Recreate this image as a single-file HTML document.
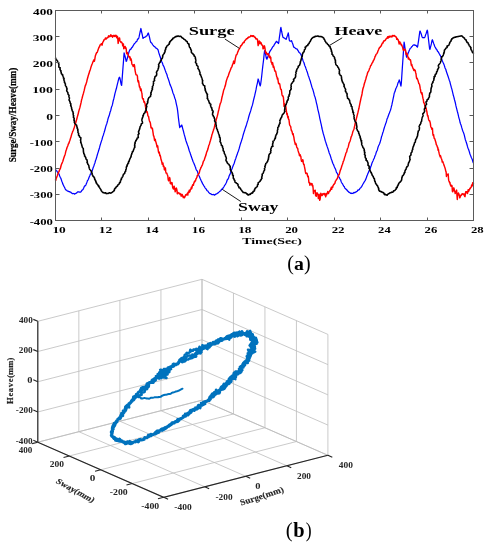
<!DOCTYPE html>
<html><head><meta charset="utf-8"><title>Figure</title>
<style>html,body{margin:0;padding:0;background:#fff;}svg{display:block;filter:blur(0.3px);}</style>
</head><body>
<svg width="489" height="550" viewBox="0 0 489 550">
<rect x="0" y="0" width="489" height="550" fill="#fff"/>
<g fill="none" stroke-linejoin="round" stroke-linecap="round">
<path d="M55.50 169.08 L55.85 170.01 L56.20 170.49 L56.55 170.72 L56.90 171.10 L57.25 171.72 L57.60 172.32 L57.95 172.83 L58.30 173.37 L58.65 173.61 L59.00 174.00 L59.35 174.98 L59.70 175.99 L60.05 176.84 L60.40 177.58 L60.75 178.09 L61.10 179.00 L61.45 180.13 L61.80 181.20 L62.15 181.91 L62.50 182.99 L62.85 184.09 L63.20 184.77 L63.55 185.43 L63.90 186.26 L64.25 186.72 L64.60 187.50 L64.95 188.32 L65.30 189.10 L65.65 189.71 L66.00 189.90 L66.35 190.13 L66.70 190.28 L67.05 190.67 L67.40 190.97 L67.75 191.23 L68.10 191.21 L68.45 191.29 L68.80 191.66 L69.15 191.77 L69.50 191.52 L69.85 191.83 L70.20 192.12 L70.55 192.06 L70.90 192.35 L71.25 192.79 L71.60 192.91 L71.95 193.25 L72.30 193.73 L72.65 193.63 L73.00 193.52 L73.35 193.50 L73.70 193.49 L74.05 193.69 L74.40 194.09 L74.75 193.92 L75.10 193.54 L75.45 193.70 L75.80 193.51 L76.15 193.18 L76.50 193.09 L76.85 192.82 L77.20 192.31 L77.55 191.94 L77.90 191.94 L78.25 192.01 L78.60 191.86 L78.95 191.93 L79.30 192.10 L79.65 192.04 L80.00 192.18 L80.35 192.14 L80.70 192.07 L81.05 191.65 L81.40 191.24 L81.75 190.64 L82.10 190.09 L82.45 189.91 L82.80 189.68 L83.15 189.26 L83.50 188.53 L83.85 187.64 L84.20 186.84 L84.55 186.04 L84.90 185.79 L85.25 185.83 L85.60 185.45 L85.95 184.70 L86.30 183.86 L86.65 183.04 L87.00 182.04 L87.35 180.88 L87.70 180.25 L88.05 179.93 L88.40 179.27 L88.75 178.28 L89.10 177.30 L89.45 176.46 L89.80 175.67 L90.15 174.78 L90.50 173.99 L90.85 173.52 L91.20 172.84 L91.55 172.21 L91.90 171.67 L92.25 170.63 L92.60 169.46 L92.95 168.37 L93.30 167.24 L93.65 166.47 L94.00 165.45 L94.35 164.33 L94.70 163.44 L95.05 162.43 L95.40 161.00 L95.75 159.89 L96.10 159.16 L96.45 158.01 L96.80 156.82 L97.15 155.45 L97.50 154.25 L97.85 153.09 L98.20 152.03 L98.55 150.79 L98.90 149.69 L99.25 148.82 L99.60 147.43 L99.95 145.86 L100.30 144.78 L100.65 143.62 L101.00 142.43 L101.35 141.39 L101.70 140.36 L102.05 139.24 L102.40 137.87 L102.75 136.55 L103.10 135.67 L103.45 134.72 L103.80 133.41 L104.15 132.42 L104.50 131.29 L104.85 129.99 L105.20 128.77 L105.55 127.45 L105.90 126.19 L106.25 125.05 L106.60 124.18 L106.95 123.13 L107.30 121.77 L107.65 120.49 L108.00 118.90 L108.35 117.71 L108.70 116.85 L109.05 116.06 L109.40 114.80 L109.75 113.49 L110.10 112.08 L110.45 111.16 L110.80 110.18 L111.15 108.68 L111.50 107.12 L111.85 106.26 L112.20 105.40 L112.55 104.16 L112.90 102.48 L113.25 100.71 L113.60 99.47 L113.95 98.19 L114.30 96.55 L114.65 95.01 L115.00 93.35 L115.35 92.08 L115.70 90.80 L116.05 89.53 L116.40 88.53 L116.75 86.95 L117.10 85.31 L117.45 83.84 L117.80 82.60 L118.15 81.21 L118.50 79.68 L118.85 78.45 L119.20 77.49 L119.55 77.26 L119.90 78.25 L120.25 79.76 L120.60 81.68 L120.95 83.44 L121.30 84.94 L121.65 85.38 L122.00 80.82 L122.35 76.08 L122.70 71.33 L123.05 66.79 L123.40 62.33 L123.75 57.68 L124.10 52.88 L124.45 54.07 L124.80 55.39 L125.15 56.76 L125.50 58.28 L125.85 59.83 L126.20 61.41 L126.55 61.09 L126.90 59.83 L127.25 58.50 L127.60 57.14 L127.95 55.86 L128.30 54.48 L128.65 53.20 L129.00 51.85 L129.35 51.06 L129.70 50.32 L130.05 49.54 L130.40 49.22 L130.75 49.28 L131.10 48.81 L131.45 48.17 L131.80 47.57 L132.15 47.26 L132.50 47.08 L132.85 46.19 L133.20 45.58 L133.55 45.07 L133.90 44.38 L134.25 43.83 L134.60 43.49 L134.95 43.15 L135.30 42.79 L135.65 42.41 L136.00 41.81 L136.35 41.59 L136.70 41.40 L137.05 40.71 L137.40 39.63 L137.75 38.94 L138.10 39.03 L138.45 38.75 L138.80 37.91 L139.15 36.49 L139.50 34.81 L139.85 33.13 L140.20 31.50 L140.55 30.07 L140.90 28.49 L141.25 30.18 L141.60 32.01 L141.95 33.46 L142.30 34.86 L142.65 36.76 L143.00 38.44 L143.35 37.94 L143.70 37.68 L144.05 37.54 L144.40 37.33 L144.75 37.19 L145.10 37.02 L145.45 36.82 L145.80 36.76 L146.15 36.21 L146.50 35.84 L146.85 35.85 L147.20 35.41 L147.55 34.42 L147.90 33.56 L148.25 33.00 L148.60 33.83 L148.95 35.11 L149.30 36.32 L149.65 37.93 L150.00 39.56 L150.35 41.02 L150.70 42.29 L151.05 42.61 L151.40 42.80 L151.75 43.16 L152.10 43.76 L152.45 44.39 L152.80 44.86 L153.15 45.27 L153.50 45.64 L153.85 46.16 L154.20 46.50 L154.55 46.53 L154.90 46.79 L155.25 47.54 L155.60 47.84 L155.95 47.95 L156.30 48.27 L156.65 48.45 L157.00 48.59 L157.35 49.01 L157.70 49.39 L158.05 49.95 L158.40 51.20 L158.75 52.51 L159.10 53.58 L159.45 54.69 L159.80 55.75 L160.15 56.73 L160.50 57.80 L160.85 59.19 L161.20 60.27 L161.55 61.12 L161.90 62.01 L162.25 62.78 L162.60 63.61 L162.95 64.69 L163.30 65.67 L163.65 66.20 L164.00 66.78 L164.35 67.89 L164.70 69.10 L165.05 69.86 L165.40 70.83 L165.75 71.72 L166.10 72.68 L166.45 73.43 L166.80 74.17 L167.15 75.49 L167.50 76.93 L167.85 77.81 L168.20 78.72 L168.55 79.64 L168.90 80.70 L169.25 81.89 L169.60 83.16 L169.95 84.37 L170.30 85.11 L170.65 85.87 L171.00 86.70 L171.35 87.52 L171.70 88.59 L172.05 89.81 L172.40 90.80 L172.75 92.20 L173.10 93.25 L173.45 93.92 L173.80 94.75 L174.15 95.92 L174.50 97.12 L174.85 98.18 L175.20 98.92 L175.55 100.13 L175.90 101.91 L176.25 103.61 L176.60 105.16 L176.95 106.67 L177.30 108.42 L177.65 110.85 L178.00 113.90 L178.35 117.07 L178.70 120.13 L179.05 122.76 L179.40 125.30 L179.75 127.58 L180.10 126.91 L180.45 126.52 L180.80 126.38 L181.15 125.63 L181.50 125.14 L181.85 125.23 L182.20 126.79 L182.55 128.02 L182.90 129.37 L183.25 130.54 L183.60 131.77 L183.95 133.34 L184.30 134.70 L184.65 135.83 L185.00 137.15 L185.35 138.47 L185.70 139.84 L186.05 140.94 L186.40 141.94 L186.75 142.95 L187.10 143.92 L187.45 144.99 L187.80 145.86 L188.15 146.76 L188.50 147.97 L188.85 149.28 L189.20 150.49 L189.55 151.51 L189.90 152.24 L190.25 153.40 L190.60 154.57 L190.95 155.50 L191.30 156.57 L191.65 157.49 L192.00 158.46 L192.35 159.60 L192.70 160.44 L193.05 161.50 L193.40 162.27 L193.75 162.94 L194.10 163.77 L194.45 164.66 L194.80 165.58 L195.15 166.46 L195.50 167.25 L195.85 168.49 L196.20 169.54 L196.55 170.23 L196.90 170.50 L197.25 170.99 L197.60 172.07 L197.95 173.19 L198.30 174.10 L198.65 174.84 L199.00 175.69 L199.35 176.45 L199.70 177.21 L200.05 178.27 L200.40 178.88 L200.75 179.73 L201.10 180.58 L201.45 181.09 L201.80 181.93 L202.15 182.85 L202.50 183.40 L202.85 184.09 L203.20 184.67 L203.55 185.26 L203.90 185.85 L204.25 186.29 L204.60 186.88 L204.95 187.59 L205.30 188.09 L205.65 188.43 L206.00 188.71 L206.35 189.38 L206.70 190.15 L207.05 190.59 L207.40 190.79 L207.75 190.97 L208.10 191.37 L208.45 192.04 L208.80 192.60 L209.15 192.88 L209.50 193.22 L209.85 193.43 L210.20 193.69 L210.55 193.73 L210.90 193.92 L211.25 194.12 L211.60 194.54 L211.95 194.68 L212.30 194.52 L212.65 194.53 L213.00 194.57 L213.35 194.47 L213.70 194.51 L214.05 194.70 L214.40 195.03 L214.75 195.03 L215.10 194.61 L215.45 194.35 L215.80 194.20 L216.15 193.92 L216.50 193.79 L216.85 193.76 L217.20 193.49 L217.55 193.12 L217.90 192.93 L218.25 192.88 L218.60 192.45 L218.95 192.06 L219.30 191.65 L219.65 191.42 L220.00 191.26 L220.35 191.00 L220.70 190.77 L221.05 190.27 L221.40 189.50 L221.75 189.08 L222.10 189.13 L222.45 188.87 L222.80 188.58 L223.15 187.91 L223.50 187.25 L223.85 186.83 L224.20 186.24 L224.55 185.58 L224.90 184.95 L225.25 184.59 L225.60 184.04 L225.95 183.29 L226.30 182.71 L226.65 181.77 L227.00 180.82 L227.35 179.74 L227.70 179.12 L228.05 179.07 L228.40 178.46 L228.75 177.31 L229.10 176.04 L229.45 175.34 L229.80 174.65 L230.15 173.76 L230.50 172.79 L230.85 171.72 L231.20 170.78 L231.55 169.81 L231.90 169.02 L232.25 168.21 L232.60 167.15 L232.95 166.20 L233.30 165.31 L233.65 164.52 L234.00 163.72 L234.35 162.70 L234.70 161.54 L235.05 160.30 L235.40 159.46 L235.75 158.63 L236.10 157.43 L236.45 156.31 L236.80 155.39 L237.15 154.60 L237.50 153.36 L237.85 152.21 L238.20 151.41 L238.55 150.49 L238.90 149.35 L239.25 148.22 L239.60 146.95 L239.95 145.66 L240.30 144.42 L240.65 143.25 L241.00 142.19 L241.35 141.21 L241.70 140.10 L242.05 139.03 L242.40 137.95 L242.75 136.62 L243.10 135.22 L243.45 134.05 L243.80 132.85 L244.15 131.72 L244.50 130.81 L244.85 129.59 L245.20 128.37 L245.55 127.43 L245.90 126.61 L246.25 125.52 L246.60 124.43 L246.95 123.13 L247.30 121.89 L247.65 120.88 L248.00 119.75 L248.35 118.41 L248.70 117.00 L249.05 115.76 L249.40 114.55 L249.75 113.50 L250.10 112.55 L250.45 111.61 L250.80 110.41 L251.15 109.06 L251.50 107.76 L251.85 106.60 L252.20 105.69 L252.55 104.47 L252.90 103.08 L253.25 101.37 L253.60 99.87 L253.95 98.51 L254.30 97.13 L254.65 95.74 L255.00 94.17 L255.35 92.72 L255.70 91.12 L256.05 89.44 L256.40 87.49 L256.75 85.64 L257.10 84.34 L257.45 82.80 L257.80 80.75 L258.15 78.99 L258.50 79.92 L258.85 81.08 L259.20 82.30 L259.55 84.00 L259.90 85.18 L260.25 85.90 L260.60 84.53 L260.95 82.03 L261.30 79.48 L261.65 76.46 L262.00 73.27 L262.35 69.98 L262.70 66.92 L263.05 64.00 L263.40 61.44 L263.75 58.24 L264.10 54.65 L264.45 51.69 L264.80 50.48 L265.15 52.21 L265.50 53.82 L265.85 55.71 L266.20 57.52 L266.55 58.75 L266.90 59.18 L267.25 58.25 L267.60 57.27 L267.95 56.44 L268.30 55.72 L268.65 54.71 L269.00 53.64 L269.35 52.76 L269.70 51.87 L270.05 51.14 L270.40 50.62 L270.75 50.11 L271.10 49.58 L271.45 49.13 L271.80 48.51 L272.15 47.88 L272.50 47.29 L272.85 46.72 L273.20 46.25 L273.55 46.16 L273.90 45.40 L274.25 44.70 L274.60 44.12 L274.95 43.64 L275.30 43.22 L275.65 42.60 L276.00 41.95 L276.35 41.28 L276.70 41.27 L277.05 41.86 L277.40 42.51 L277.75 42.53 L278.10 42.79 L278.45 43.49 L278.80 42.26 L279.15 39.21 L279.50 36.55 L279.85 34.33 L280.20 31.80 L280.55 28.88 L280.90 27.36 L281.25 29.26 L281.60 31.24 L281.95 32.93 L282.30 34.57 L282.65 36.09 L283.00 37.31 L283.35 37.62 L283.70 37.79 L284.05 37.93 L284.40 38.00 L284.75 38.30 L285.10 38.71 L285.45 38.87 L285.80 39.08 L286.15 39.36 L286.50 38.37 L286.85 37.17 L287.20 36.10 L287.55 35.45 L287.90 34.58 L288.25 32.96 L288.60 34.77 L288.95 37.55 L289.30 40.29 L289.65 40.89 L290.00 40.89 L290.35 41.14 L290.70 41.21 L291.05 41.09 L291.40 40.71 L291.75 41.21 L292.10 42.29 L292.45 43.12 L292.80 44.01 L293.15 45.11 L293.50 46.53 L293.85 47.27 L294.20 47.24 L294.55 47.43 L294.90 47.78 L295.25 48.17 L295.60 48.51 L295.95 48.68 L296.30 48.78 L296.65 48.76 L297.00 48.99 L297.35 49.37 L297.70 50.20 L298.05 50.70 L298.40 51.19 L298.75 51.87 L299.10 52.55 L299.45 52.78 L299.80 52.86 L300.15 53.30 L300.50 53.69 L300.85 54.38 L301.20 55.13 L301.55 56.35 L301.90 57.39 L302.25 58.24 L302.60 59.31 L302.95 60.43 L303.30 61.34 L303.65 62.06 L304.00 62.73 L304.35 63.98 L304.70 65.28 L305.05 66.08 L305.40 66.73 L305.75 67.82 L306.10 68.91 L306.45 69.84 L306.80 70.93 L307.15 71.81 L307.50 72.83 L307.85 74.13 L308.20 75.45 L308.55 76.20 L308.90 77.13 L309.25 78.34 L309.60 79.36 L309.95 80.31 L310.30 81.22 L310.65 82.62 L311.00 83.82 L311.35 84.93 L311.70 86.36 L312.05 87.42 L312.40 88.35 L312.75 89.24 L313.10 90.33 L313.45 91.60 L313.80 92.87 L314.15 94.42 L314.50 95.74 L314.85 96.62 L315.20 97.64 L315.55 99.03 L315.90 100.45 L316.25 102.03 L316.60 103.52 L316.95 104.93 L317.30 106.59 L317.65 108.43 L318.00 110.05 L318.35 111.38 L318.70 112.97 L319.05 114.46 L319.40 116.07 L319.75 118.04 L320.10 119.69 L320.45 121.21 L320.80 122.78 L321.15 124.21 L321.50 125.80 L321.85 127.74 L322.20 129.25 L322.55 130.59 L322.90 132.10 L323.25 133.48 L323.60 134.62 L323.95 135.87 L324.30 137.10 L324.65 138.40 L325.00 139.74 L325.35 141.14 L325.70 142.04 L326.05 143.10 L326.40 144.19 L326.75 145.23 L327.10 146.40 L327.45 147.35 L327.80 148.29 L328.15 149.35 L328.50 150.46 L328.85 151.80 L329.20 152.92 L329.55 153.79 L329.90 154.51 L330.25 155.56 L330.60 156.58 L330.95 157.79 L331.30 159.01 L331.65 159.88 L332.00 160.80 L332.35 161.98 L332.70 163.08 L333.05 163.86 L333.40 164.30 L333.75 165.24 L334.10 166.13 L334.45 166.95 L334.80 167.85 L335.15 168.44 L335.50 169.08 L335.85 170.15 L336.20 171.40 L336.55 172.47 L336.90 172.88 L337.25 173.27 L337.60 173.95 L337.95 174.96 L338.30 175.89 L338.65 176.57 L339.00 177.03 L339.35 177.60 L339.70 178.23 L340.05 179.09 L340.40 179.53 L340.75 180.16 L341.10 181.42 L341.45 182.26 L341.80 182.81 L342.15 183.29 L342.50 183.79 L342.85 184.51 L343.20 185.11 L343.55 185.94 L343.90 186.24 L344.25 186.49 L344.60 187.46 L344.95 188.25 L345.30 188.52 L345.65 188.94 L346.00 189.18 L346.35 189.27 L346.70 189.57 L347.05 190.43 L347.40 190.87 L347.75 191.13 L348.10 191.26 L348.45 191.66 L348.80 192.24 L349.15 192.38 L349.50 192.43 L349.85 192.59 L350.20 193.04 L350.55 193.32 L350.90 193.26 L351.25 193.20 L351.60 193.27 L351.95 193.53 L352.30 193.37 L352.65 193.39 L353.00 193.50 L353.35 193.03 L353.70 192.51 L354.05 192.40 L354.40 192.59 L354.75 192.76 L355.10 192.42 L355.45 192.10 L355.80 192.09 L356.15 191.90 L356.50 191.51 L356.85 191.49 L357.20 191.25 L357.55 190.63 L357.90 189.98 L358.25 190.06 L358.60 190.09 L358.95 189.79 L359.30 189.62 L359.65 188.93 L360.00 188.28 L360.35 188.07 L360.70 187.77 L361.05 187.34 L361.40 186.83 L361.75 186.40 L362.10 185.69 L362.45 185.01 L362.80 184.27 L363.15 183.75 L363.50 183.31 L363.85 182.63 L364.20 181.98 L364.55 181.42 L364.90 180.90 L365.25 180.34 L365.60 179.66 L365.95 178.86 L366.30 177.84 L366.65 176.70 L367.00 175.68 L367.35 174.93 L367.70 174.02 L368.05 173.20 L368.40 172.63 L368.75 171.55 L369.10 170.83 L369.45 170.12 L369.80 169.35 L370.15 168.73 L370.50 167.52 L370.85 166.47 L371.20 165.76 L371.55 164.52 L371.90 163.32 L372.25 162.48 L372.60 161.78 L372.95 161.08 L373.30 160.15 L373.65 159.10 L374.00 158.57 L374.35 157.95 L374.70 156.69 L375.05 155.73 L375.40 155.06 L375.75 154.18 L376.10 152.91 L376.45 151.79 L376.80 151.03 L377.15 150.51 L377.50 149.45 L377.85 147.87 L378.20 146.70 L378.55 145.87 L378.90 145.08 L379.25 144.43 L379.60 143.66 L379.95 142.82 L380.30 141.58 L380.65 140.29 L381.00 139.08 L381.35 137.53 L381.70 136.20 L382.05 135.31 L382.40 134.22 L382.75 132.84 L383.10 131.93 L383.45 130.85 L383.80 129.47 L384.15 128.30 L384.50 127.16 L384.85 126.14 L385.20 125.09 L385.55 123.93 L385.90 123.10 L386.25 122.18 L386.60 120.90 L386.95 119.33 L387.30 118.35 L387.65 117.81 L388.00 116.83 L388.35 115.76 L388.70 114.74 L389.05 113.76 L389.40 112.94 L389.75 112.01 L390.10 111.13 L390.45 110.28 L390.80 109.05 L391.15 107.71 L391.50 106.16 L391.85 104.96 L392.20 103.14 L392.55 101.55 L392.90 99.92 L393.25 98.19 L393.60 96.59 L393.95 94.75 L394.30 92.96 L394.65 92.33 L395.00 91.55 L395.35 90.22 L395.70 88.97 L396.05 88.20 L396.40 87.54 L396.75 86.74 L397.10 85.90 L397.45 84.87 L397.80 83.65 L398.15 82.53 L398.50 82.02 L398.85 81.05 L399.20 79.96 L399.55 80.93 L399.90 82.04 L400.25 83.38 L400.60 84.85 L400.95 86.06 L401.30 83.53 L401.65 78.35 L402.00 72.89 L402.35 67.63 L402.70 62.50 L403.05 57.51 L403.40 52.35 L403.75 47.32 L404.10 42.07 L404.45 44.08 L404.80 46.76 L405.15 49.01 L405.50 50.92 L405.85 52.97 L406.20 55.31 L406.55 57.11 L406.90 56.40 L407.25 55.70 L407.60 54.89 L407.95 53.73 L408.30 52.81 L408.65 51.98 L409.00 50.94 L409.35 50.18 L409.70 49.52 L410.05 48.72 L410.40 48.25 L410.75 48.02 L411.10 47.62 L411.45 47.05 L411.80 46.77 L412.15 46.53 L412.50 45.98 L412.85 45.46 L413.20 45.11 L413.55 45.12 L413.90 44.82 L414.25 44.76 L414.60 44.93 L414.95 45.37 L415.30 45.39 L415.65 45.21 L416.00 45.27 L416.35 45.83 L416.70 46.48 L417.05 46.71 L417.40 47.15 L417.75 45.97 L418.10 43.49 L418.45 41.31 L418.80 38.85 L419.15 36.38 L419.50 33.79 L419.85 31.35 L420.20 31.11 L420.55 32.28 L420.90 33.11 L421.25 34.01 L421.60 35.35 L421.95 36.45 L422.30 37.36 L422.65 37.66 L423.00 37.45 L423.35 37.75 L423.70 37.60 L424.05 37.55 L424.40 37.61 L424.75 37.38 L425.10 36.48 L425.45 35.34 L425.80 34.40 L426.15 33.48 L426.50 32.34 L426.85 31.14 L427.20 30.19 L427.55 31.00 L427.90 34.08 L428.25 37.15 L428.60 40.30 L428.95 43.27 L429.30 46.27 L429.65 49.13 L430.00 49.31 L430.35 47.71 L430.70 46.37 L431.05 45.11 L431.40 43.67 L431.75 41.87 L432.10 40.13 L432.45 39.80 L432.80 41.09 L433.15 41.98 L433.50 42.88 L433.85 43.91 L434.20 44.74 L434.55 45.87 L434.90 46.82 L435.25 47.24 L435.60 47.76 L435.95 48.69 L436.30 49.28 L436.65 49.40 L437.00 50.02 L437.35 50.91 L437.70 51.58 L438.05 51.65 L438.40 51.93 L438.75 52.77 L439.10 53.63 L439.45 53.98 L439.80 54.59 L440.15 55.43 L440.50 55.70 L440.85 56.53 L441.20 58.01 L441.55 58.96 L441.90 59.55 L442.25 60.55 L442.60 61.46 L442.95 62.22 L443.30 62.89 L443.65 63.69 L444.00 64.58 L444.35 65.61 L444.70 66.72 L445.05 67.94 L445.40 68.65 L445.75 69.25 L446.10 70.52 L446.45 71.82 L446.80 72.79 L447.15 73.80 L447.50 74.75 L447.85 75.74 L448.20 76.70 L448.55 77.84 L448.90 78.90 L449.25 80.15 L449.60 80.91 L449.95 81.97 L450.30 83.58 L450.65 84.93 L451.00 86.21 L451.35 87.51 L451.70 88.65 L452.05 89.83 L452.40 91.31 L452.75 92.81 L453.10 94.36 L453.45 95.82 L453.80 96.88 L454.15 98.26 L454.50 99.75 L454.85 100.97 L455.20 102.25 L455.55 103.91 L455.90 105.65 L456.25 107.06 L456.60 108.46 L456.95 109.79 L457.30 111.23 L457.65 112.50 L458.00 113.86 L458.35 115.42 L458.70 116.97 L459.05 118.33 L459.40 119.34 L459.75 120.90 L460.10 122.53 L460.45 123.66 L460.80 124.45 L461.15 125.41 L461.50 126.63 L461.85 127.93 L462.20 129.11 L462.55 130.24 L462.90 131.23 L463.25 131.98 L463.60 132.89 L463.95 133.95 L464.30 135.17 L464.65 136.62 L465.00 138.18 L465.35 139.67 L465.70 140.59 L466.05 141.60 L466.40 142.81 L466.75 143.76 L467.10 145.02 L467.45 146.38 L467.80 147.51 L468.15 148.46 L468.50 149.29 L468.85 150.21 L469.20 151.38 L469.55 152.54 L469.90 153.73 L470.25 154.72 L470.60 155.59 L470.95 156.38 L471.30 157.48 L471.65 158.19 L472.00 158.82 L472.35 159.77 L472.70 161.00 L473.05 162.28 L473.40 163.08" stroke="#0000ff" stroke-width="1.25"/>
<path d="M55.50 179.76 L55.85 180.26 L56.20 178.22 L56.55 177.84 L56.90 176.64 L57.25 176.00 L57.60 174.59 L57.95 173.97 L58.30 172.69 L58.65 172.01 L59.00 171.72 L59.35 170.38 L59.70 169.70 L60.05 169.18 L60.40 168.41 L60.75 167.00 L61.10 165.49 L61.45 164.41 L61.80 163.59 L62.15 162.88 L62.50 162.07 L62.85 161.20 L63.20 160.04 L63.55 158.90 L63.90 157.82 L64.25 156.72 L64.60 155.78 L64.95 154.90 L65.30 153.71 L65.65 152.11 L66.00 150.66 L66.35 149.81 L66.70 148.84 L67.05 147.42 L67.40 146.71 L67.75 146.03 L68.10 144.81 L68.45 143.86 L68.80 143.52 L69.15 142.57 L69.50 141.26 L69.85 140.46 L70.20 139.36 L70.55 138.13 L70.90 137.44 L71.25 135.95 L71.60 134.62 L71.95 133.58 L72.30 132.66 L72.65 131.59 L73.00 130.94 L73.35 130.28 L73.70 129.13 L74.05 128.06 L74.40 127.16 L74.75 125.84 L75.10 124.83 L75.45 123.62 L75.80 122.46 L76.15 121.30 L76.50 120.09 L76.85 118.73 L77.20 117.30 L77.55 116.13 L77.90 115.08 L78.25 113.62 L78.60 112.00 L78.95 110.67 L79.30 109.48 L79.65 108.35 L80.00 107.13 L80.35 105.69 L80.70 104.17 L81.05 102.69 L81.40 100.81 L81.75 99.17 L82.10 98.19 L82.45 96.78 L82.80 95.41 L83.15 94.25 L83.50 93.15 L83.85 91.66 L84.20 90.38 L84.55 88.87 L84.90 87.19 L85.25 85.92 L85.60 85.14 L85.95 84.15 L86.30 83.12 L86.65 82.01 L87.00 80.46 L87.35 79.00 L87.70 77.69 L88.05 76.46 L88.40 75.17 L88.75 74.16 L89.10 73.33 L89.45 71.78 L89.80 70.87 L90.15 70.05 L90.50 68.85 L90.85 67.57 L91.20 66.59 L91.55 65.55 L91.90 64.50 L92.25 63.70 L92.60 62.77 L92.95 61.90 L93.30 61.10 L93.65 60.03 L94.00 60.10 L94.35 61.31 L94.70 59.92 L95.05 57.62 L95.40 55.73 L95.75 54.69 L96.10 53.86 L96.45 53.02 L96.80 52.53 L97.15 52.48 L97.50 51.53 L97.85 50.45 L98.20 49.49 L98.55 48.47 L98.90 47.51 L99.25 47.07 L99.60 46.50 L99.95 45.24 L100.30 44.76 L100.65 44.77 L101.00 44.12 L101.35 43.68 L101.70 44.57 L102.05 45.21 L102.40 43.84 L102.75 42.08 L103.10 41.82 L103.45 41.45 L103.80 39.99 L104.15 39.88 L104.50 39.81 L104.85 39.46 L105.20 38.56 L105.55 37.96 L105.90 38.09 L106.25 39.05 L106.60 38.19 L106.95 38.09 L107.30 37.68 L107.65 37.85 L108.00 37.47 L108.35 36.14 L108.70 35.78 L109.05 36.87 L109.40 36.46 L109.75 36.01 L110.10 36.45 L110.45 36.15 L110.80 34.76 L111.15 35.48 L111.50 36.25 L111.85 35.63 L112.20 36.50 L112.55 37.28 L112.90 36.35 L113.25 35.37 L113.60 35.47 L113.95 35.67 L114.30 36.34 L114.65 35.52 L115.00 36.63 L115.35 35.49 L115.70 35.94 L116.05 35.36 L116.40 36.33 L116.75 37.81 L117.10 37.41 L117.45 36.34 L117.80 39.12 L118.15 43.40 L118.50 41.45 L118.85 39.93 L119.20 37.97 L119.55 37.89 L119.90 40.47 L120.25 41.16 L120.60 41.55 L120.95 42.48 L121.30 42.01 L121.65 42.10 L122.00 42.97 L122.35 43.23 L122.70 45.86 L123.05 45.37 L123.40 43.87 L123.75 48.79 L124.10 47.51 L124.45 46.91 L124.80 47.79 L125.15 46.40 L125.50 48.38 L125.85 47.56 L126.20 48.92 L126.55 53.28 L126.90 53.86 L127.25 52.81 L127.60 52.60 L127.95 54.33 L128.30 55.01 L128.65 56.08 L129.00 57.03 L129.35 56.58 L129.70 57.91 L130.05 57.00 L130.40 60.11 L130.75 58.47 L131.10 59.16 L131.45 60.66 L131.80 63.45 L132.15 64.59 L132.50 64.60 L132.85 65.48 L133.20 66.49 L133.55 66.04 L133.90 64.75 L134.25 64.61 L134.60 65.95 L134.95 69.72 L135.30 71.56 L135.65 73.31 L136.00 74.81 L136.35 74.88 L136.70 74.93 L137.05 75.14 L137.40 76.12 L137.75 80.45 L138.10 81.93 L138.45 80.70 L138.80 82.50 L139.15 85.03 L139.50 87.08 L139.85 86.53 L140.20 88.65 L140.55 90.47 L140.90 88.62 L141.25 90.02 L141.60 92.17 L141.95 93.49 L142.30 97.60 L142.65 98.83 L143.00 99.01 L143.35 98.73 L143.70 101.10 L144.05 102.19 L144.40 101.71 L144.75 102.80 L145.10 103.98 L145.45 106.47 L145.80 108.41 L146.15 109.86 L146.50 111.25 L146.85 112.23 L147.20 111.88 L147.55 113.33 L147.90 115.85 L148.25 116.19 L148.60 116.59 L148.95 118.81 L149.30 120.39 L149.65 121.42 L150.00 122.06 L150.35 122.76 L150.70 125.32 L151.05 127.84 L151.40 127.60 L151.75 127.47 L152.10 128.71 L152.45 128.58 L152.80 131.16 L153.15 133.41 L153.50 135.98 L153.85 135.98 L154.20 138.01 L154.55 140.51 L154.90 139.23 L155.25 139.20 L155.60 141.32 L155.95 142.08 L156.30 143.49 L156.65 144.78 L157.00 146.98 L157.35 146.89 L157.70 145.84 L158.05 148.83 L158.40 151.46 L158.75 152.91 L159.10 151.99 L159.45 153.08 L159.80 155.78 L160.15 155.20 L160.50 156.49 L160.85 158.59 L161.20 160.06 L161.55 160.86 L161.90 162.49 L162.25 164.27 L162.60 162.85 L162.95 163.12 L163.30 166.45 L163.65 166.47 L164.00 166.23 L164.35 169.80 L164.70 169.97 L165.05 168.34 L165.40 167.92 L165.75 171.64 L166.10 173.02 L166.45 172.99 L166.80 173.21 L167.15 174.23 L167.50 175.10 L167.85 176.28 L168.20 179.62 L168.55 180.81 L168.90 179.78 L169.25 179.15 L169.60 177.55 L169.95 178.61 L170.30 183.36 L170.65 183.65 L171.00 183.45 L171.35 182.57 L171.70 184.10 L172.05 182.60 L172.40 185.33 L172.75 187.91 L173.10 187.96 L173.45 188.96 L173.80 188.24 L174.15 186.18 L174.50 188.25 L174.85 189.69 L175.20 191.88 L175.55 190.68 L175.90 188.97 L176.25 188.02 L176.60 188.78 L176.95 190.09 L177.30 193.71 L177.65 192.29 L178.00 192.67 L178.35 192.88 L178.70 192.90 L179.05 193.55 L179.40 193.71 L179.75 193.30 L180.10 194.50 L180.45 194.60 L180.80 193.90 L181.15 196.13 L181.50 195.04 L181.85 196.10 L182.20 194.50 L182.55 195.51 L182.90 195.98 L183.25 197.54 L183.60 196.65 L183.95 196.71 L184.30 197.86 L184.65 197.34 L185.00 196.69 L185.35 195.59 L185.70 194.77 L186.05 195.25 L186.40 194.79 L186.75 194.24 L187.10 194.24 L187.45 193.17 L187.80 195.14 L188.15 192.16 L188.50 192.06 L188.85 192.58 L189.20 190.30 L189.55 192.07 L189.90 191.60 L190.25 190.04 L190.60 189.10 L190.95 189.08 L191.30 187.27 L191.65 188.72 L192.00 187.46 L192.35 185.84 L192.70 184.73 L193.05 185.02 L193.40 185.33 L193.75 183.18 L194.10 182.73 L194.45 181.37 L194.80 181.67 L195.15 180.57 L195.50 180.82 L195.85 179.37 L196.20 178.71 L196.55 178.00 L196.90 177.35 L197.25 175.54 L197.60 175.69 L197.95 175.10 L198.30 173.95 L198.65 173.44 L199.00 173.38 L199.35 172.47 L199.70 170.91 L200.05 169.75 L200.40 169.07 L200.75 168.02 L201.10 167.56 L201.45 166.77 L201.80 165.97 L202.15 165.40 L202.50 164.45 L202.85 163.22 L203.20 162.08 L203.55 161.06 L203.90 160.63 L204.25 160.14 L204.60 158.81 L204.95 157.69 L205.30 156.70 L205.65 155.91 L206.00 154.84 L206.35 153.38 L206.70 151.97 L207.05 151.27 L207.40 150.65 L207.75 149.49 L208.10 148.30 L208.45 146.81 L208.80 145.44 L209.15 144.75 L209.50 143.74 L209.85 142.37 L210.20 141.22 L210.55 140.15 L210.90 138.92 L211.25 137.79 L211.60 136.29 L211.95 134.68 L212.30 133.76 L212.65 132.66 L213.00 131.48 L213.35 130.46 L213.70 129.26 L214.05 128.26 L214.40 127.14 L214.75 125.46 L215.10 123.70 L215.45 122.60 L215.80 121.70 L216.15 120.20 L216.50 118.68 L216.85 117.53 L217.20 116.40 L217.55 115.09 L217.90 113.61 L218.25 111.92 L218.60 110.49 L218.95 109.16 L219.30 107.58 L219.65 105.83 L220.00 104.57 L220.35 103.42 L220.70 102.69 L221.05 101.69 L221.40 100.24 L221.75 98.45 L222.10 96.74 L222.45 95.45 L222.80 94.01 L223.15 92.56 L223.50 90.93 L223.85 89.67 L224.20 88.85 L224.55 87.89 L224.90 86.62 L225.25 85.85 L225.60 84.56 L225.95 82.47 L226.30 81.05 L226.65 79.89 L227.00 78.88 L227.35 77.88 L227.70 77.07 L228.05 76.39 L228.40 75.45 L228.75 74.26 L229.10 73.16 L229.45 72.24 L229.80 71.41 L230.15 70.59 L230.50 69.66 L230.85 68.67 L231.20 67.65 L231.55 67.30 L231.90 66.78 L232.25 65.48 L232.60 64.34 L232.95 63.82 L233.30 62.53 L233.65 61.11 L234.00 61.71 L234.35 63.52 L234.70 62.27 L235.05 60.07 L235.40 58.17 L235.75 56.84 L236.10 55.40 L236.45 54.69 L236.80 54.61 L237.15 53.78 L237.50 52.70 L237.85 51.74 L238.20 51.22 L238.55 49.91 L238.90 49.72 L239.25 48.85 L239.60 48.35 L239.95 47.79 L240.30 46.83 L240.65 45.73 L241.00 45.78 L241.35 45.71 L241.70 44.71 L242.05 44.66 L242.40 43.82 L242.75 43.02 L243.10 42.99 L243.45 42.65 L243.80 41.95 L244.15 42.56 L244.50 41.07 L244.85 40.60 L245.20 40.59 L245.55 39.71 L245.90 39.81 L246.25 38.91 L246.60 38.78 L246.95 38.69 L247.30 38.58 L247.65 37.93 L248.00 37.56 L248.35 37.77 L248.70 37.00 L249.05 37.17 L249.40 37.14 L249.75 37.13 L250.10 36.63 L250.45 36.45 L250.80 35.47 L251.15 35.77 L251.50 35.77 L251.85 36.16 L252.20 36.43 L252.55 35.66 L252.90 36.35 L253.25 36.36 L253.60 35.67 L253.95 36.56 L254.30 36.99 L254.65 37.21 L255.00 37.59 L255.35 37.18 L255.70 38.62 L256.05 39.06 L256.40 39.14 L256.75 38.74 L257.10 39.13 L257.45 39.28 L257.80 42.70 L258.15 45.61 L258.50 42.44 L258.85 41.58 L259.20 40.92 L259.55 42.65 L259.90 43.73 L260.25 41.96 L260.60 43.40 L260.95 42.67 L261.30 43.34 L261.65 44.71 L262.00 45.16 L262.35 45.18 L262.70 45.37 L263.05 48.89 L263.40 48.54 L263.75 48.04 L264.10 46.72 L264.45 45.83 L264.80 47.49 L265.15 49.47 L265.50 52.95 L265.85 52.95 L266.20 52.23 L266.55 53.84 L266.90 54.23 L267.25 53.54 L267.60 54.67 L267.95 54.77 L268.30 53.72 L268.65 54.01 L269.00 56.01 L269.35 57.51 L269.70 56.18 L270.05 56.25 L270.40 58.20 L270.75 57.37 L271.10 62.01 L271.45 62.14 L271.80 63.09 L272.15 64.49 L272.50 62.51 L272.85 63.89 L273.20 67.20 L273.55 66.00 L273.90 67.00 L274.25 68.43 L274.60 70.25 L274.95 71.15 L275.30 70.80 L275.65 71.46 L276.00 73.22 L276.35 74.96 L276.70 76.61 L277.05 77.17 L277.40 79.00 L277.75 78.16 L278.10 80.52 L278.45 83.22 L278.80 83.78 L279.15 83.59 L279.50 83.47 L279.85 84.67 L280.20 86.76 L280.55 88.90 L280.90 89.29 L281.25 89.44 L281.60 91.63 L281.95 94.43 L282.30 95.56 L282.65 95.40 L283.00 96.69 L283.35 96.92 L283.70 100.71 L284.05 106.34 L284.40 104.58 L284.75 103.96 L285.10 104.95 L285.45 105.68 L285.80 106.28 L286.15 109.36 L286.50 111.78 L286.85 114.52 L287.20 113.36 L287.55 116.21 L287.90 117.77 L288.25 116.47 L288.60 119.50 L288.95 119.49 L289.30 122.31 L289.65 125.13 L290.00 125.31 L290.35 126.02 L290.70 126.64 L291.05 128.90 L291.40 130.72 L291.75 130.66 L292.10 131.71 L292.45 133.56 L292.80 134.59 L293.15 133.78 L293.50 135.84 L293.85 137.20 L294.20 139.57 L294.55 141.37 L294.90 142.66 L295.25 144.45 L295.60 143.18 L295.95 143.60 L296.30 144.72 L296.65 146.70 L297.00 147.71 L297.35 148.05 L297.70 148.46 L298.05 150.64 L298.40 151.61 L298.75 152.95 L299.10 153.44 L299.45 155.58 L299.80 155.78 L300.15 154.78 L300.50 156.04 L300.85 156.52 L301.20 159.68 L301.55 161.28 L301.90 161.10 L302.25 161.50 L302.60 159.79 L302.95 159.88 L303.30 162.95 L303.65 164.31 L304.00 164.22 L304.35 166.22 L304.70 167.87 L305.05 169.61 L305.40 171.91 L305.75 173.46 L306.10 172.90 L306.45 173.44 L306.80 173.19 L307.15 173.32 L307.50 175.81 L307.85 176.83 L308.20 176.20 L308.55 178.48 L308.90 182.52 L309.25 182.34 L309.60 183.73 L309.95 185.21 L310.30 183.30 L310.65 184.10 L311.00 183.98 L311.35 183.58 L311.70 184.89 L312.05 183.72 L312.40 185.96 L312.75 185.38 L313.10 188.05 L313.45 193.55 L313.80 190.37 L314.15 190.82 L314.50 191.06 L314.85 190.34 L315.20 190.16 L315.55 195.23 L315.90 195.70 L316.25 196.28 L316.60 193.92 L316.95 192.66 L317.30 193.41 L317.65 194.14 L318.00 195.05 L318.35 198.57 L318.70 197.24 L319.05 194.25 L319.40 195.70 L319.75 200.38 L320.10 199.34 L320.45 196.50 L320.80 193.27 L321.15 194.11 L321.50 194.24 L321.85 195.49 L322.20 195.45 L322.55 194.29 L322.90 193.78 L323.25 194.11 L323.60 193.92 L323.95 193.45 L324.30 194.88 L324.65 194.06 L325.00 193.57 L325.35 195.43 L325.70 196.88 L326.05 195.36 L326.40 193.82 L326.75 194.86 L327.10 193.21 L327.45 192.67 L327.80 191.43 L328.15 192.41 L328.50 193.63 L328.85 191.87 L329.20 191.81 L329.55 191.27 L329.90 190.45 L330.25 190.81 L330.60 189.13 L330.95 188.68 L331.30 187.35 L331.65 189.30 L332.00 187.31 L332.35 186.72 L332.70 187.29 L333.05 185.49 L333.40 185.16 L333.75 184.19 L334.10 184.23 L334.45 183.76 L334.80 183.44 L335.15 182.23 L335.50 181.06 L335.85 180.61 L336.20 180.13 L336.55 179.26 L336.90 179.18 L337.25 178.63 L337.60 177.86 L337.95 176.29 L338.30 175.80 L338.65 174.71 L339.00 174.92 L339.35 173.97 L339.70 172.52 L340.05 171.26 L340.40 170.05 L340.75 169.47 L341.10 168.33 L341.45 167.23 L341.80 166.00 L342.15 164.99 L342.50 164.26 L342.85 163.03 L343.20 161.56 L343.55 160.93 L343.90 160.21 L344.25 158.86 L344.60 157.60 L344.95 156.39 L345.30 155.49 L345.65 154.11 L346.00 152.91 L346.35 152.36 L346.70 151.76 L347.05 150.12 L347.40 148.71 L347.75 147.98 L348.10 147.20 L348.45 146.13 L348.80 144.37 L349.15 143.00 L349.50 142.30 L349.85 141.58 L350.20 140.66 L350.55 139.46 L350.90 137.81 L351.25 136.67 L351.60 135.94 L351.95 135.13 L352.30 133.90 L352.65 132.40 L353.00 131.19 L353.35 130.49 L353.70 129.74 L354.05 128.69 L354.40 127.04 L354.75 125.56 L355.10 123.74 L355.45 122.24 L355.80 120.92 L356.15 119.55 L356.50 118.10 L356.85 116.77 L357.20 115.44 L357.55 114.04 L357.90 112.69 L358.25 111.09 L358.60 109.62 L358.95 108.28 L359.30 106.48 L359.65 104.62 L360.00 102.89 L360.35 101.26 L360.70 99.57 L361.05 97.84 L361.40 96.61 L361.75 95.26 L362.10 93.39 L362.45 91.17 L362.80 89.26 L363.15 88.04 L363.50 86.99 L363.85 85.77 L364.20 84.26 L364.55 83.04 L364.90 82.04 L365.25 80.70 L365.60 79.75 L365.95 78.54 L366.30 77.05 L366.65 76.09 L367.00 74.98 L367.35 73.72 L367.70 72.53 L368.05 71.84 L368.40 71.47 L368.75 70.71 L369.10 69.82 L369.45 68.79 L369.80 68.02 L370.15 67.15 L370.50 66.02 L370.85 65.31 L371.20 65.06 L371.55 64.35 L371.90 63.38 L372.25 62.82 L372.60 62.49 L372.95 61.84 L373.30 60.68 L373.65 60.18 L374.00 59.80 L374.35 58.76 L374.70 57.74 L375.05 56.44 L375.40 56.22 L375.75 55.21 L376.10 54.28 L376.45 53.99 L376.80 53.64 L377.15 53.13 L377.50 52.41 L377.85 51.32 L378.20 50.54 L378.55 49.72 L378.90 48.60 L379.25 48.36 L379.60 47.36 L379.95 47.25 L380.30 47.15 L380.65 46.30 L381.00 46.18 L381.35 45.77 L381.70 44.35 L382.05 43.97 L382.40 43.02 L382.75 42.75 L383.10 42.90 L383.45 41.52 L383.80 41.00 L384.15 40.61 L384.50 40.90 L384.85 40.72 L385.20 40.47 L385.55 39.82 L385.90 39.17 L386.25 38.73 L386.60 38.13 L386.95 38.17 L387.30 38.31 L387.65 36.64 L388.00 36.81 L388.35 37.94 L388.70 36.48 L389.05 37.03 L389.40 36.27 L389.75 37.19 L390.10 37.02 L390.45 36.24 L390.80 36.26 L391.15 36.12 L391.50 36.45 L391.85 36.98 L392.20 36.63 L392.55 35.52 L392.90 35.54 L393.25 35.73 L393.60 35.59 L393.95 36.12 L394.30 35.47 L394.65 35.82 L395.00 36.05 L395.35 36.46 L395.70 36.49 L396.05 37.10 L396.40 37.25 L396.75 39.34 L397.10 38.34 L397.45 38.83 L397.80 39.70 L398.15 39.80 L398.50 40.77 L398.85 42.54 L399.20 43.96 L399.55 43.06 L399.90 41.85 L400.25 43.13 L400.60 43.00 L400.95 44.57 L401.30 45.12 L401.65 44.69 L402.00 45.69 L402.35 46.68 L402.70 47.45 L403.05 49.68 L403.40 50.11 L403.75 50.36 L404.10 49.50 L404.45 49.62 L404.80 49.25 L405.15 49.74 L405.50 50.11 L405.85 52.88 L406.20 54.24 L406.55 53.34 L406.90 53.26 L407.25 54.48 L407.60 55.80 L407.95 56.87 L408.30 58.92 L408.65 57.79 L409.00 58.72 L409.35 59.30 L409.70 59.64 L410.05 60.00 L410.40 59.69 L410.75 61.15 L411.10 63.88 L411.45 65.49 L411.80 64.51 L412.15 65.81 L412.50 66.94 L412.85 68.14 L413.20 68.48 L413.55 69.60 L413.90 70.45 L414.25 69.52 L414.60 70.42 L414.95 70.03 L415.30 70.69 L415.65 72.72 L416.00 73.74 L416.35 76.98 L416.70 78.71 L417.05 78.12 L417.40 78.87 L417.75 79.87 L418.10 80.85 L418.45 82.11 L418.80 83.50 L419.15 83.83 L419.50 84.41 L419.85 86.06 L420.20 88.44 L420.55 89.75 L420.90 92.43 L421.25 92.73 L421.60 93.92 L421.95 92.77 L422.30 94.32 L422.65 96.80 L423.00 98.44 L423.35 99.64 L423.70 102.64 L424.05 102.71 L424.40 103.77 L424.75 105.12 L425.10 107.97 L425.45 108.46 L425.80 108.67 L426.15 108.00 L426.50 110.60 L426.85 111.61 L427.20 113.94 L427.55 115.96 L427.90 115.62 L428.25 117.40 L428.60 119.45 L428.95 120.29 L429.30 120.84 L429.65 120.78 L430.00 121.95 L430.35 123.45 L430.70 126.43 L431.05 127.25 L431.40 127.59 L431.75 129.19 L432.10 128.55 L432.45 128.34 L432.80 133.63 L433.15 135.42 L433.50 134.45 L433.85 136.32 L434.20 138.35 L434.55 138.55 L434.90 139.04 L435.25 140.54 L435.60 141.60 L435.95 142.74 L436.30 144.52 L436.65 145.04 L437.00 145.73 L437.35 147.17 L437.70 147.14 L438.05 150.15 L438.40 149.29 L438.75 151.38 L439.10 153.20 L439.45 154.64 L439.80 155.58 L440.15 156.72 L440.50 155.58 L440.85 156.88 L441.20 158.21 L441.55 158.89 L441.90 159.93 L442.25 162.13 L442.60 161.50 L442.95 161.95 L443.30 163.17 L443.65 164.12 L444.00 165.14 L444.35 165.93 L444.70 167.08 L445.05 168.12 L445.40 169.39 L445.75 171.08 L446.10 171.79 L446.45 176.43 L446.80 175.05 L447.15 174.76 L447.50 174.32 L447.85 174.19 L448.20 173.98 L448.55 179.29 L448.90 180.99 L449.25 181.62 L449.60 182.69 L449.95 182.38 L450.30 184.79 L450.65 185.53 L451.00 186.30 L451.35 185.31 L451.70 185.31 L452.05 185.94 L452.40 191.34 L452.75 191.78 L453.10 189.74 L453.45 189.03 L453.80 187.84 L454.15 188.93 L454.50 191.11 L454.85 191.71 L455.20 193.55 L455.55 192.26 L455.90 191.69 L456.25 190.80 L456.60 190.04 L456.95 195.32 L457.30 199.45 L457.65 195.52 L458.00 194.10 L458.35 193.04 L458.70 193.44 L459.05 195.01 L459.40 194.89 L459.75 197.79 L460.10 197.27 L460.45 195.56 L460.80 195.33 L461.15 195.56 L461.50 194.83 L461.85 194.11 L462.20 193.71 L462.55 193.94 L462.90 194.01 L463.25 194.63 L463.60 194.37 L463.95 193.81 L464.30 194.59 L464.65 196.43 L465.00 196.62 L465.35 194.11 L465.70 191.77 L466.05 192.81 L466.40 191.93 L466.75 191.67 L467.10 191.97 L467.45 193.62 L467.80 192.21 L468.15 189.62 L468.50 190.67 L468.85 191.23 L469.20 189.44 L469.55 189.60 L469.90 188.13 L470.25 188.43 L470.60 187.71 L470.95 187.52 L471.30 186.83 L471.65 185.00 L472.00 186.14 L472.35 185.20 L472.70 182.82 L473.05 184.19 L473.40 183.68" stroke="#ff0000" stroke-width="1.45"/>
<path d="M55.77 58.34 L55.60 58.79 L55.79 59.09 L55.90 59.43 L56.25 59.66 L56.62 59.88 L56.84 60.17 L56.99 60.48 L57.16 60.79 L57.43 61.05 L57.66 61.33 L57.74 61.68 L57.72 62.07 L57.95 62.35 L58.33 62.57 L58.46 62.89 L58.48 63.26 L58.65 63.57 L58.82 63.87 L58.95 64.20 L58.93 64.59 L58.83 65.02 L58.83 65.40 L58.88 65.76 L58.83 66.17 L58.89 66.52 L58.78 66.96 L59.03 67.23 L59.44 67.42 L59.91 67.60 L60.27 67.83 L60.12 68.28 L59.91 68.75 L59.92 69.13 L60.18 69.39 L60.14 69.79 L60.31 70.10 L60.60 70.36 L60.96 70.59 L60.90 70.99 L60.85 71.39 L60.87 71.75 L61.09 72.04 L61.29 72.34 L61.20 72.74 L61.24 73.10 L61.37 73.43 L61.46 73.76 L61.68 74.05 L62.12 74.27 L62.57 74.48 L62.67 74.81 L62.46 75.26 L62.57 75.59 L62.88 75.86 L63.11 76.15 L63.22 76.48 L63.34 76.81 L63.52 77.12 L63.52 77.49 L63.33 77.92 L63.58 78.21 L63.94 78.46 L64.13 78.77 L64.04 79.16 L63.83 79.59 L63.86 79.95 L64.07 80.25 L64.23 80.57 L64.42 80.88 L64.52 81.21 L64.37 81.62 L64.34 82.00 L64.39 82.35 L64.80 82.59 L64.94 82.92 L64.91 83.29 L65.14 83.59 L65.41 83.87 L65.42 84.23 L65.31 84.63 L65.33 84.99 L65.44 85.32 L65.46 85.68 L65.63 85.99 L65.95 86.27 L66.26 86.54 L66.44 86.86 L66.45 87.22 L66.50 87.57 L66.65 87.89 L66.74 88.23 L66.94 88.54 L67.13 88.85 L67.04 89.24 L66.78 89.67 L66.68 90.06 L66.68 90.42 L66.87 90.73 L66.91 91.08 L66.93 91.44 L67.18 91.73 L67.54 92.00 L67.71 92.32 L67.83 92.65 L67.98 92.97 L67.91 93.35 L67.93 93.71 L68.09 94.03 L68.10 94.39 L68.45 94.66 L68.74 94.95 L68.94 95.26 L69.07 95.58 L69.06 95.95 L69.01 96.32 L68.89 96.71 L68.98 97.05 L69.13 97.38 L69.34 97.68 L69.49 98.01 L69.40 98.39 L69.31 98.77 L69.16 99.17 L69.11 99.55 L69.04 99.92 L69.17 100.25 L69.37 100.56 L69.59 100.87 L69.73 101.19 L69.79 101.54 L69.95 101.86 L70.20 102.16 L70.08 102.55 L69.93 102.95 L70.30 103.22 L70.62 103.50 L70.84 103.80 L70.89 104.15 L70.71 104.56 L70.79 104.90 L70.82 105.25 L70.64 105.66 L70.78 105.98 L71.23 106.23 L71.28 106.58 L71.33 106.93 L71.46 107.26 L71.56 107.59 L71.59 107.95 L71.52 108.32 L71.66 108.65 L71.79 108.98 L71.80 109.34 L71.93 109.67 L72.12 109.98 L72.16 110.33 L72.12 110.70 L72.35 111.00 L72.66 111.29 L72.88 111.59 L72.98 111.93 L73.06 112.27 L73.00 112.64 L73.11 112.98 L73.37 113.27 L73.22 113.67 L73.06 114.07 L73.20 114.40 L73.31 114.73 L73.23 115.11 L73.47 115.41 L73.71 115.71 L73.70 116.08 L73.49 116.49 L73.29 116.90 L73.31 117.26 L73.62 117.54 L73.94 117.82 L74.03 118.16 L74.06 118.51 L74.11 118.86 L74.22 119.20 L74.04 119.60 L73.91 120.00 L74.00 120.34 L74.13 120.67 L74.42 120.95 L74.61 121.26 L74.48 121.66 L74.25 122.08 L74.33 122.43 L74.59 122.72 L74.69 123.06 L74.86 123.37 L74.95 123.71 L75.27 123.99 L75.62 124.26 L75.83 124.56 L76.22 124.82 L76.57 125.08 L76.72 125.40 L76.67 125.78 L76.74 126.12 L76.89 126.44 L76.94 126.79 L76.93 127.16 L77.20 127.45 L77.33 127.77 L77.15 128.19 L77.17 128.55 L77.55 128.80 L77.95 129.05 L77.91 129.43 L77.73 129.84 L77.71 130.21 L77.76 130.56 L78.03 130.84 L78.03 131.21 L78.01 131.58 L77.90 131.98 L77.94 132.33 L78.00 132.67 L78.30 132.95 L78.58 133.23 L78.65 133.58 L78.67 133.94 L78.66 134.31 L78.45 134.73 L78.49 135.09 L78.87 135.34 L79.24 135.59 L79.38 135.92 L79.44 136.26 L79.41 136.64 L79.65 136.93 L79.97 137.20 L80.42 137.43 L80.83 137.67 L80.90 138.02 L80.85 138.40 L80.69 138.81 L80.69 139.17 L80.78 139.51 L80.63 139.93 L80.45 140.35 L80.69 140.64 L80.81 140.97 L80.77 141.35 L80.82 141.70 L80.80 142.07 L80.67 142.47 L80.76 142.81 L81.23 143.03 L81.33 143.37 L81.35 143.73 L81.48 144.06 L81.63 144.38 L81.67 144.73 L81.65 145.10 L81.84 145.41 L81.96 145.74 L82.02 146.09 L82.11 146.42 L82.20 146.76 L82.24 147.12 L82.46 147.41 L82.67 147.72 L82.90 148.01 L83.17 148.30 L83.32 148.62 L83.33 148.98 L83.26 149.37 L83.38 149.69 L83.45 150.04 L83.32 150.45 L83.38 150.79 L83.55 151.11 L83.36 151.54 L83.47 151.87 L83.59 152.20 L83.58 152.57 L83.76 152.88 L83.84 153.22 L83.79 153.61 L84.14 153.86 L84.27 154.19 L84.32 154.54 L84.60 154.82 L84.66 155.17 L84.53 155.58 L84.52 155.95 L84.97 156.17 L85.15 156.48 L85.20 156.83 L85.46 157.11 L85.74 157.39 L85.76 157.75 L85.84 158.09 L85.91 158.44 L85.96 158.80 L86.13 159.11 L86.40 159.38 L86.70 159.65 L86.99 159.92 L87.04 160.27 L87.08 160.63 L87.21 160.95 L87.29 161.29 L87.29 161.66 L87.02 162.14 L87.01 162.51 L87.39 162.75 L87.57 163.06 L87.64 163.40 L87.63 163.78 L87.81 164.09 L88.07 164.36 L88.28 164.66 L88.47 164.96 L88.67 165.26 L88.73 165.61 L88.88 165.92 L88.92 166.28 L88.94 166.66 L88.95 167.03 L89.06 167.36 L89.14 167.71 L89.32 168.01 L89.35 168.38 L89.46 168.71 L89.58 169.04 L89.70 169.37 L89.95 169.65 L90.39 169.84 L90.54 170.16 L90.70 170.47 L90.81 170.81 L91.24 171.00 L91.49 171.27 L91.50 171.65 L91.37 172.09 L91.62 172.36 L91.76 172.68 L91.97 172.97 L92.18 173.26 L92.09 173.68 L92.01 174.10 L92.11 174.44 L92.21 174.78 L92.48 175.05 L92.72 175.32 L92.92 175.62 L92.97 175.98 L93.02 176.34 L93.38 176.56 L93.76 176.77 L94.07 177.01 L94.17 177.35 L94.15 177.74 L94.48 177.97 L94.67 178.27 L94.66 178.66 L94.63 179.06 L94.69 179.42 L95.13 179.60 L95.15 179.98 L95.22 180.33 L95.59 180.54 L95.73 180.86 L95.63 181.30 L95.69 181.66 L96.12 181.83 L96.33 182.12 L96.11 182.63 L96.14 183.01 L96.63 183.14 L96.98 183.35 L96.90 183.80 L97.06 184.11 L97.27 184.39 L97.61 184.60 L97.93 184.81 L98.04 185.15 L97.97 185.60 L98.26 185.84 L98.83 185.89 L98.89 186.26 L98.76 186.76 L99.11 186.94 L99.46 187.13 L99.53 187.50 L99.65 187.85 L99.85 188.12 L100.09 188.38 L100.30 188.66 L100.45 188.98 L100.61 189.30 L100.86 189.55 L101.02 189.87 L101.09 190.28 L101.16 190.69 L101.43 190.93 L101.72 191.15 L101.93 191.44 L102.14 191.74 L102.36 192.03 L102.63 192.27 L102.87 192.56 L103.25 192.66 L103.74 192.61 L104.11 192.69 L104.36 192.95 L104.70 193.07 L105.13 193.00 L105.57 192.84 L105.88 192.93 L106.07 193.33 L106.34 193.60 L106.70 193.54 L107.06 193.38 L107.36 193.49 L107.68 193.46 L107.99 193.48 L108.30 193.44 L108.59 193.22 L108.86 193.03 L109.11 192.85 L109.42 192.83 L109.77 192.88 L110.22 193.07 L110.62 193.13 L111.00 193.09 L111.28 192.88 L111.52 192.61 L111.85 192.48 L112.15 192.31 L112.49 192.16 L112.71 191.89 L112.88 191.54 L113.17 191.35 L113.45 191.14 L113.72 190.92 L114.10 190.81 L114.37 190.58 L114.37 190.09 L114.36 189.60 L114.42 189.19 L114.73 189.01 L114.90 188.70 L115.00 188.34 L115.40 188.23 L115.69 188.03 L115.77 187.65 L115.92 187.33 L116.15 187.08 L116.43 186.86 L116.53 186.51 L116.92 186.37 L117.40 186.29 L117.54 185.97 L117.67 185.64 L117.77 185.28 L117.88 184.95 L118.22 184.75 L118.49 184.52 L118.65 184.21 L119.04 184.05 L119.46 183.89 L119.56 183.54 L119.43 183.06 L119.51 182.70 L119.78 182.46 L120.24 182.32 L120.47 182.05 L120.47 181.65 L120.34 181.18 L120.39 180.81 L120.67 180.57 L120.82 180.26 L120.90 179.91 L121.16 179.65 L121.41 179.39 L121.45 179.02 L121.32 178.57 L121.35 178.20 L121.74 178.00 L122.05 177.76 L122.17 177.44 L122.27 177.10 L122.47 176.81 L122.77 176.56 L122.91 176.24 L122.97 175.89 L122.97 175.51 L123.13 175.20 L123.33 174.90 L123.34 174.53 L123.46 174.20 L123.85 173.99 L124.28 173.79 L124.53 173.52 L124.76 173.24 L124.79 172.87 L124.77 172.48 L124.81 172.12 L125.13 171.87 L125.53 171.66 L125.62 171.32 L125.69 170.97 L125.73 170.60 L125.69 170.21 L125.73 169.85 L125.90 169.54 L126.10 169.25 L126.22 168.92 L126.29 168.57 L126.28 168.19 L126.25 167.80 L126.32 167.45 L126.46 167.13 L126.60 166.81 L126.49 166.39 L126.83 166.15 L127.25 165.94 L127.06 165.49 L126.96 165.08 L127.26 164.82 L127.58 164.56 L127.64 164.22 L127.79 163.89 L127.89 163.56 L128.18 163.30 L128.61 163.09 L128.49 162.67 L128.35 162.24 L128.51 161.92 L128.80 161.66 L129.05 161.38 L129.21 161.07 L129.20 160.69 L129.20 160.32 L129.49 160.05 L129.65 159.74 L129.68 159.38 L129.71 159.01 L129.92 158.72 L130.15 158.43 L130.32 158.12 L130.40 157.78 L130.68 157.51 L130.85 157.20 L130.85 156.83 L130.96 156.50 L131.19 156.21 L131.33 155.89 L131.17 155.45 L131.26 155.12 L131.35 154.78 L131.58 154.49 L131.78 154.19 L131.73 153.80 L131.74 153.43 L131.89 153.12 L132.30 152.89 L132.48 152.58 L132.47 152.21 L132.33 151.79 L132.57 151.50 L133.04 151.29 L133.20 150.97 L133.31 150.64 L133.41 150.31 L133.45 149.95 L133.71 149.67 L133.83 149.34 L133.88 148.99 L133.91 148.63 L134.07 148.31 L134.20 147.99 L134.53 147.72 L134.79 147.44 L134.87 147.09 L134.88 146.73 L134.73 146.32 L134.51 145.88 L134.79 145.60 L134.89 145.27 L134.86 144.89 L134.74 144.49 L134.61 144.08 L134.77 143.77 L135.08 143.50 L135.18 143.16 L134.97 142.73 L135.00 142.38 L135.28 142.10 L135.40 141.77 L135.70 141.49 L135.68 141.12 L135.72 140.77 L136.14 140.53 L136.35 140.22 L136.30 139.85 L136.62 139.57 L136.84 139.27 L137.07 138.97 L137.03 138.60 L137.07 138.24 L137.53 138.01 L137.99 137.78 L138.32 137.51 L138.39 137.17 L138.24 136.76 L138.09 136.35 L138.07 135.98 L138.13 135.64 L138.17 135.28 L138.15 134.91 L138.09 134.53 L138.42 134.26 L138.80 134.01 L139.12 133.73 L138.96 133.32 L138.73 132.89 L138.69 132.52 L138.52 132.11 L138.45 131.72 L138.55 131.39 L138.97 131.14 L139.02 130.79 L138.87 130.39 L139.10 130.09 L139.43 129.82 L139.56 129.49 L139.57 129.13 L139.52 128.75 L139.64 128.42 L139.91 128.14 L140.04 127.81 L139.90 127.40 L139.94 127.05 L140.19 126.76 L140.24 126.41 L140.47 126.11 L140.63 125.79 L140.86 125.50 L141.11 125.21 L141.18 124.86 L141.19 124.50 L141.14 124.12 L141.37 123.82 L141.86 123.60 L142.28 123.36 L142.53 123.07 L142.62 122.73 L142.42 122.31 L142.32 121.92 L142.33 121.55 L142.17 121.14 L141.98 120.72 L141.89 120.33 L141.99 119.99 L141.91 119.60 L141.95 119.25 L141.98 118.89 L142.23 118.60 L142.32 118.26 L142.46 117.94 L142.43 117.56 L142.69 117.28 L143.01 117.01 L142.98 116.63 L143.03 116.28 L142.97 115.90 L142.94 115.52 L143.32 115.27 L143.51 114.96 L143.52 114.60 L143.70 114.29 L143.73 113.93 L143.85 113.60 L144.15 113.33 L144.51 113.08 L144.90 112.84 L144.89 112.47 L145.21 112.20 L145.37 111.89 L145.14 111.44 L145.29 111.12 L145.71 110.89 L145.91 110.59 L146.14 110.30 L146.31 109.99 L146.17 109.57 L145.94 109.13 L145.87 108.74 L146.19 108.48 L146.33 108.15 L146.47 107.83 L146.44 107.45 L146.42 107.08 L146.75 106.82 L146.84 106.48 L146.65 106.05 L146.40 105.59 L146.42 105.23 L146.51 104.89 L146.57 104.54 L146.70 104.22 L147.02 103.96 L147.27 103.67 L147.40 103.35 L147.55 103.03 L147.82 102.75 L147.67 102.33 L147.37 101.86 L147.57 101.56 L147.88 101.29 L148.02 100.97 L147.93 100.57 L147.87 100.19 L147.96 99.85 L148.16 99.55 L148.18 99.19 L148.23 98.83 L148.43 98.53 L148.71 98.25 L148.75 97.90 L148.86 97.57 L149.26 97.33 L149.52 97.04 L149.85 96.78 L150.22 96.53 L150.57 96.27 L150.67 95.94 L150.58 95.54 L150.57 95.17 L150.68 94.84 L151.03 94.58 L151.12 94.24 L151.08 93.86 L150.79 93.41 L150.69 93.01 L151.09 92.77 L151.20 92.43 L151.24 92.08 L151.38 91.76 L151.59 91.45 L151.61 91.09 L151.58 90.72 L151.85 90.43 L151.91 90.09 L152.08 89.77 L152.46 89.52 L152.49 89.16 L152.23 88.72 L152.12 88.32 L152.41 88.05 L152.60 87.74 L152.52 87.35 L152.37 86.94 L152.39 86.58 L152.53 86.26 L152.87 85.99 L153.17 85.71 L153.23 85.37 L153.13 84.97 L153.24 84.64 L153.33 84.30 L153.26 83.92 L153.43 83.60 L153.69 83.32 L153.61 82.93 L153.55 82.54 L153.47 82.15 L153.42 81.78 L153.42 81.41 L153.79 81.16 L154.29 80.94 L154.59 80.66 L154.58 80.29 L154.47 79.89 L154.35 79.49 L154.30 79.11 L154.45 78.79 L154.62 78.48 L154.70 78.14 L154.90 77.83 L154.84 77.45 L154.84 77.08 L155.06 76.78 L155.25 76.47 L155.62 76.22 L156.11 76.00 L156.27 75.68 L156.43 75.37 L156.68 75.08 L156.69 74.72 L156.59 74.32 L156.72 73.99 L156.69 73.62 L156.63 73.23 L156.58 72.85 L156.41 72.43 L156.49 72.09 L156.75 71.80 L156.92 71.49 L156.95 71.13 L157.12 70.82 L157.48 70.56 L157.75 70.28 L157.89 69.96 L157.99 69.63 L157.95 69.25 L158.07 68.92 L158.27 68.61 L158.34 68.27 L158.51 67.95 L158.76 67.67 L158.60 67.25 L158.48 66.84 L158.73 66.55 L158.93 66.25 L158.83 65.84 L158.78 65.46 L158.61 65.03 L158.54 64.63 L158.62 64.29 L158.92 64.02 L159.22 63.76 L159.25 63.40 L159.49 63.11 L159.51 62.74 L159.75 62.46 L160.14 62.22 L160.34 61.92 L160.33 61.55 L160.30 61.17 L160.56 60.89 L160.88 60.62 L161.33 60.41 L161.33 60.04 L161.31 59.66 L161.34 59.30 L161.50 58.99 L161.76 58.71 L162.15 58.48 L162.33 58.17 L162.44 57.84 L162.45 57.47 L162.61 57.16 L162.82 56.86 L162.62 56.42 L162.55 56.02 L162.77 55.73 L162.80 55.37 L162.99 55.06 L163.25 54.79 L163.33 54.44 L163.56 54.15 L163.77 53.86 L164.18 53.65 L164.38 53.35 L164.33 52.96 L164.40 52.61 L164.56 52.30 L164.88 52.05 L165.06 51.75 L165.00 51.35 L165.12 51.02 L165.02 50.60 L164.98 50.21 L165.18 49.91 L165.64 49.74 L165.68 49.37 L165.62 48.96 L165.66 48.59 L165.75 48.25 L165.65 47.81 L166.02 47.60 L166.44 47.42 L166.40 47.01 L166.51 46.67 L166.72 46.39 L166.83 46.05 L167.16 45.83 L167.56 45.66 L167.79 45.39 L168.01 45.12 L168.23 44.85 L168.53 44.63 L168.85 44.43 L169.18 44.25 L169.28 43.90 L169.16 43.40 L169.16 42.98 L169.60 42.88 L169.85 42.63 L169.76 42.12 L169.77 41.68 L170.10 41.50 L170.48 41.37 L170.58 40.99 L170.80 40.72 L171.15 40.57 L171.45 40.37 L171.57 40.01 L171.71 39.66 L172.01 39.46 L172.45 39.42 L172.69 39.17 L172.73 38.70 L172.84 38.29 L173.17 38.13 L173.54 38.03 L173.81 37.81 L174.17 37.71 L174.46 37.52 L174.73 37.30 L175.04 37.15 L175.30 36.89 L175.54 36.58 L175.93 36.60 L176.34 36.70 L176.58 36.31 L176.92 36.23 L177.31 36.37 L177.62 36.20 L177.94 35.95 L178.30 35.92 L178.65 36.19 L178.98 36.41 L179.31 36.43 L179.67 36.32 L180.02 36.29 L180.41 36.21 L180.74 36.33 L181.04 36.52 L181.28 36.85 L181.46 37.24 L181.71 37.47 L182.02 37.59 L182.21 37.91 L182.53 38.01 L182.87 38.12 L183.12 38.34 L183.42 38.51 L183.59 38.82 L183.79 39.10 L184.08 39.29 L184.34 39.51 L184.68 39.66 L185.01 39.82 L185.36 39.98 L185.54 40.28 L185.79 40.53 L186.00 40.81 L186.16 41.12 L186.47 41.33 L186.94 41.43 L187.23 41.66 L187.28 42.05 L187.34 42.43 L187.50 42.74 L187.65 43.07 L187.84 43.36 L188.17 43.57 L188.55 43.75 L188.89 43.96 L189.05 44.28 L189.04 44.69 L189.00 45.12 L189.05 45.49 L189.17 45.82 L189.25 46.18 L189.28 46.55 L189.41 46.88 L189.57 47.18 L189.80 47.46 L190.13 47.69 L190.35 47.97 L190.35 48.35 L190.49 48.68 L190.74 48.94 L190.80 49.30 L190.74 49.71 L191.09 49.94 L191.27 50.24 L191.34 50.59 L191.49 50.91 L191.35 51.35 L191.15 51.81 L191.28 52.13 L191.51 52.42 L191.75 52.69 L191.97 52.98 L192.19 53.27 L192.58 53.48 L192.92 53.72 L193.08 54.04 L193.23 54.35 L193.51 54.62 L193.90 54.84 L194.28 55.07 L194.10 55.52 L193.96 55.95 L194.31 56.19 L194.81 56.37 L195.10 56.63 L195.20 56.97 L195.35 57.29 L195.36 57.66 L195.42 58.02 L195.31 58.43 L195.42 58.77 L195.76 59.01 L195.73 59.40 L195.79 59.75 L195.91 60.08 L195.82 60.49 L195.66 60.92 L195.62 61.31 L195.80 61.62 L195.59 62.06 L195.46 62.48 L195.73 62.76 L196.02 63.03 L196.33 63.28 L196.59 63.56 L196.57 63.94 L196.60 64.30 L196.58 64.68 L196.57 65.06 L196.90 65.31 L197.15 65.59 L197.34 65.90 L197.81 66.10 L198.02 66.40 L198.01 66.77 L197.99 67.15 L197.95 67.53 L197.98 67.90 L197.86 68.31 L197.95 68.65 L198.30 68.90 L198.62 69.15 L198.72 69.49 L198.92 69.79 L199.26 70.05 L199.32 70.40 L199.37 70.75 L199.47 71.08 L199.44 71.46 L199.62 71.77 L199.94 72.04 L200.01 72.38 L200.03 72.74 L199.96 73.14 L200.00 73.49 L199.93 73.89 L199.97 74.24 L200.15 74.55 L200.55 74.78 L200.82 75.06 L200.76 75.45 L200.94 75.76 L201.07 76.09 L201.25 76.40 L201.33 76.74 L201.34 77.10 L201.52 77.41 L201.71 77.72 L202.01 77.99 L201.99 78.36 L202.09 78.70 L202.21 79.03 L202.25 79.38 L202.19 79.77 L202.29 80.11 L202.68 80.35 L202.70 80.71 L202.60 81.11 L202.46 81.52 L202.51 81.87 L202.52 82.24 L202.53 82.60 L202.42 83.01 L202.44 83.37 L202.69 83.65 L202.94 83.94 L203.18 84.23 L203.17 84.60 L203.27 84.94 L203.56 85.21 L203.85 85.49 L204.44 85.67 L204.78 85.93 L204.82 86.28 L204.76 86.67 L204.73 87.04 L204.79 87.39 L204.82 87.75 L204.84 88.11 L205.07 88.41 L205.29 88.70 L205.19 89.10 L205.04 89.52 L205.43 89.76 L205.38 90.14 L205.19 90.57 L205.44 90.86 L205.78 91.12 L205.85 91.46 L205.81 91.84 L206.00 92.15 L206.37 92.40 L206.46 92.74 L206.54 93.08 L206.60 93.43 L206.80 93.73 L207.27 93.95 L207.56 94.22 L207.38 94.65 L207.19 95.08 L207.31 95.41 L207.33 95.77 L207.24 96.16 L207.46 96.46 L207.43 96.84 L207.46 97.20 L207.40 97.58 L207.25 97.99 L207.21 98.37 L207.52 98.64 L207.80 98.92 L207.94 99.24 L207.94 99.61 L208.10 99.93 L208.34 100.22 L208.66 100.49 L208.73 100.83 L208.71 101.20 L208.87 101.52 L208.94 101.86 L209.08 102.19 L209.39 102.46 L209.57 102.77 L209.44 103.18 L209.50 103.52 L209.79 103.80 L210.36 103.99 L210.72 104.25 L210.85 104.57 L210.70 104.99 L210.49 105.42 L210.57 105.76 L210.80 106.05 L210.88 106.40 L210.95 106.74 L211.13 107.05 L211.25 107.38 L211.53 107.66 L211.90 107.92 L211.78 108.32 L211.62 108.73 L211.85 109.03 L212.06 109.33 L212.20 109.65 L212.19 110.02 L212.13 110.41 L212.39 110.69 L212.83 110.93 L213.14 111.20 L213.06 111.59 L213.13 111.94 L213.02 112.33 L212.64 112.81 L212.61 113.19 L212.78 113.50 L212.54 113.94 L212.47 114.32 L212.58 114.65 L212.64 115.00 L212.96 115.27 L213.20 115.57 L213.34 115.89 L213.37 116.25 L213.40 116.60 L213.82 116.84 L214.14 117.11 L214.23 117.45 L214.24 117.81 L214.30 118.16 L214.36 118.51 L214.63 118.79 L214.81 119.10 L214.75 119.49 L214.71 119.87 L214.77 120.21 L214.62 120.62 L214.54 121.01 L214.85 121.28 L214.97 121.61 L215.02 121.96 L215.41 122.21 L215.75 122.48 L215.87 122.81 L215.80 123.19 L215.84 123.55 L215.99 123.86 L215.98 124.23 L215.86 124.63 L216.02 124.95 L216.32 125.23 L216.27 125.61 L216.14 126.01 L216.10 126.39 L216.24 126.71 L216.38 127.03 L216.50 127.37 L216.63 127.69 L216.57 128.08 L216.58 128.44 L216.69 128.77 L216.98 129.05 L217.20 129.35 L217.41 129.65 L217.48 130.00 L217.42 130.38 L217.53 130.71 L217.65 131.04 L217.86 131.34 L218.00 131.67 L218.23 131.96 L218.30 132.31 L218.31 132.67 L218.33 133.03 L218.52 133.34 L218.72 133.64 L218.78 133.99 L218.92 134.31 L219.00 134.66 L219.08 135.00 L219.28 135.30 L219.41 135.63 L219.45 135.98 L219.54 136.32 L219.51 136.70 L219.46 137.07 L219.63 137.39 L219.99 137.65 L220.24 137.94 L220.19 138.32 L220.11 138.71 L220.07 139.08 L220.24 139.40 L220.27 139.75 L220.23 140.13 L220.33 140.47 L220.25 140.86 L220.00 141.30 L220.02 141.66 L220.27 141.95 L220.56 142.22 L220.78 142.52 L220.78 142.89 L220.86 143.23 L221.03 143.55 L221.21 143.86 L221.31 144.19 L221.36 144.54 L221.32 144.92 L221.31 145.29 L221.66 145.55 L222.15 145.77 L222.39 146.06 L222.55 146.38 L222.54 146.75 L222.44 147.14 L222.56 147.47 L222.75 147.78 L222.83 148.12 L223.04 148.43 L223.24 148.73 L223.30 149.08 L223.14 149.49 L223.04 149.89 L223.25 150.19 L223.18 150.58 L223.27 150.92 L223.65 151.17 L223.94 151.44 L224.15 151.75 L224.19 152.10 L224.21 152.46 L224.30 152.80 L224.29 153.17 L224.37 153.51 L224.59 153.81 L224.79 154.11 L224.96 154.43 L225.15 154.73 L225.38 155.02 L225.40 155.39 L225.51 155.72 L225.59 156.06 L225.50 156.46 L225.84 156.71 L226.01 157.03 L226.03 157.39 L226.25 157.68 L226.30 158.03 L226.34 158.39 L226.29 158.78 L226.13 159.20 L226.01 159.61 L225.94 160.01 L225.97 160.37 L226.07 160.70 L226.31 160.99 L226.54 161.28 L226.64 161.62 L226.95 161.88 L227.11 162.20 L227.04 162.59 L227.25 162.89 L227.53 163.16 L227.70 163.48 L228.01 163.74 L228.49 163.94 L228.77 164.21 L229.02 164.49 L229.18 164.80 L229.31 165.12 L229.34 165.49 L229.63 165.75 L229.99 165.99 L230.17 166.29 L230.30 166.61 L230.19 167.03 L230.08 167.44 L230.24 167.76 L230.48 168.04 L230.34 168.47 L230.16 168.91 L230.14 169.29 L230.28 169.62 L230.60 169.87 L230.71 170.20 L230.88 170.50 L230.98 170.84 L231.05 171.19 L231.25 171.49 L231.54 171.75 L231.75 172.04 L232.04 172.29 L232.16 172.62 L232.06 173.04 L232.25 173.34 L232.58 173.58 L232.67 173.92 L232.53 174.36 L232.43 174.79 L232.57 175.11 L232.94 175.33 L233.34 175.53 L233.31 175.92 L233.20 176.36 L233.23 176.73 L233.31 177.08 L233.34 177.45 L233.19 177.91 L233.32 178.24 L233.73 178.44 L233.94 178.72 L233.89 179.14 L234.12 179.42 L234.14 179.80 L234.27 180.13 L234.69 180.31 L234.84 180.63 L234.91 180.99 L234.94 181.37 L234.93 181.77 L234.97 182.15 L235.31 182.37 L235.68 182.57 L235.95 182.83 L236.38 182.99 L236.65 183.24 L236.77 183.57 L237.26 183.69 L237.58 183.91 L237.72 184.23 L238.01 184.46 L238.11 184.80 L237.94 185.32 L238.09 185.63 L238.28 185.93 L238.46 186.23 L238.73 186.47 L238.93 186.76 L238.89 187.21 L238.87 187.65 L239.22 187.83 L239.68 187.94 L240.14 188.03 L240.36 188.30 L240.53 188.61 L240.58 189.00 L240.77 189.30 L240.97 189.59 L241.18 189.87 L241.45 190.09 L241.66 190.37 L241.75 190.76 L242.07 190.95 L242.32 191.19 L242.49 191.51 L242.72 191.78 L242.90 192.11 L243.14 192.38 L243.52 192.47 L243.91 192.55 L244.26 192.66 L244.65 192.71 L245.11 192.63 L245.38 192.81 L245.71 192.89 L246.00 193.01 L246.20 193.32 L246.42 193.60 L246.64 193.95 L246.95 194.06 L247.33 193.91 L247.58 194.35 L247.88 194.91 L248.26 195.03 L248.65 194.99 L248.99 194.67 L249.28 194.30 L249.62 194.26 L250.06 194.42 L250.41 194.31 L250.62 193.93 L250.90 193.71 L251.16 193.47 L251.33 193.12 L251.73 193.07 L252.28 193.18 L252.61 193.01 L252.75 192.63 L253.01 192.39 L253.07 191.95 L253.11 191.52 L253.32 191.25 L253.79 191.19 L254.15 191.02 L254.49 190.84 L254.52 190.42 L254.44 189.92 L254.49 189.53 L254.86 189.37 L254.96 189.02 L254.95 188.60 L255.05 188.25 L255.55 188.16 L255.86 187.94 L255.92 187.57 L256.17 187.31 L256.52 187.11 L256.83 186.89 L257.09 186.63 L257.38 186.38 L257.40 186.00 L257.43 185.61 L257.47 185.24 L257.45 184.83 L257.79 184.61 L258.18 184.42 L258.20 184.04 L258.12 183.61 L258.15 183.23 L258.10 182.82 L258.42 182.59 L258.83 182.40 L259.06 182.12 L259.23 181.81 L259.70 181.64 L260.09 181.43 L260.17 181.08 L260.31 180.76 L260.27 180.36 L260.47 180.06 L260.98 179.90 L261.25 179.63 L261.35 179.29 L261.39 178.92 L261.57 178.62 L261.88 178.37 L262.02 178.04 L261.74 177.55 L261.60 177.11 L261.91 176.85 L262.01 176.52 L262.00 176.14 L262.11 175.80 L262.32 175.51 L262.25 175.10 L262.17 174.69 L262.07 174.28 L262.28 173.99 L262.59 173.73 L262.89 173.47 L263.10 173.18 L263.27 172.87 L263.52 172.59 L263.43 172.18 L263.50 171.83 L263.66 171.52 L263.73 171.17 L264.04 170.91 L264.25 170.62 L264.39 170.30 L264.65 170.02 L264.64 169.64 L264.57 169.24 L264.44 168.82 L264.41 168.43 L264.63 168.14 L264.84 167.85 L265.01 167.54 L265.05 167.18 L264.80 166.71 L264.83 166.35 L265.06 166.07 L265.43 165.83 L265.40 165.44 L265.31 165.04 L265.40 164.70 L265.66 164.42 L265.72 164.07 L265.72 163.70 L265.79 163.35 L266.27 163.15 L266.59 162.90 L266.83 162.61 L267.07 162.33 L267.11 161.97 L267.28 161.66 L267.57 161.39 L267.71 161.07 L267.75 160.71 L267.84 160.37 L267.97 160.05 L268.24 159.77 L268.39 159.45 L268.47 159.11 L268.54 158.76 L268.31 158.31 L268.47 157.99 L268.75 157.72 L268.56 157.28 L268.51 156.89 L268.87 156.65 L268.89 156.29 L268.77 155.88 L268.92 155.56 L268.87 155.17 L268.93 154.82 L269.24 154.55 L269.43 154.25 L269.59 153.94 L269.86 153.66 L270.11 153.38 L270.42 153.11 L270.68 152.83 L270.83 152.51 L270.70 152.10 L270.51 151.66 L270.53 151.30 L270.79 151.02 L271.06 150.74 L270.97 150.34 L270.78 149.91 L270.79 149.54 L270.75 149.16 L270.94 148.85 L271.03 148.52 L271.23 148.21 L271.37 147.89 L271.42 147.54 L271.52 147.20 L271.59 146.86 L271.94 146.60 L272.54 146.44 L273.03 146.23 L272.81 145.79 L272.55 145.33 L272.55 144.96 L272.69 144.64 L272.53 144.22 L272.59 143.87 L272.75 143.55 L272.81 143.21 L273.12 142.94 L273.16 142.59 L272.96 142.15 L272.89 141.76 L272.91 141.39 L273.15 141.11 L273.64 140.90 L273.99 140.65 L274.18 140.34 L274.30 140.01 L274.40 139.68 L274.54 139.36 L274.57 139.00 L274.91 138.74 L275.33 138.51 L275.39 138.16 L275.21 137.74 L275.33 137.40 L275.70 137.16 L275.75 136.81 L275.44 136.34 L275.52 135.99 L275.84 135.73 L276.01 135.42 L275.98 135.04 L276.15 134.73 L276.42 134.45 L276.79 134.20 L276.80 133.84 L276.75 133.45 L276.95 133.15 L277.31 132.90 L277.40 132.56 L277.34 132.17 L277.44 131.84 L277.41 131.46 L277.42 131.09 L277.40 130.71 L277.40 130.35 L277.49 130.01 L277.60 129.67 L277.85 129.39 L277.95 129.06 L277.82 128.64 L277.81 128.27 L277.93 127.94 L277.75 127.51 L277.88 127.18 L278.41 126.99 L278.72 126.73 L278.82 126.39 L278.72 125.99 L278.67 125.60 L278.93 125.32 L279.21 125.05 L279.24 124.68 L279.27 124.33 L279.34 123.98 L279.62 123.71 L280.02 123.47 L280.08 123.12 L279.87 122.68 L279.84 122.30 L279.99 121.98 L280.09 121.65 L279.97 121.24 L279.91 120.85 L279.78 120.43 L279.97 120.13 L280.39 119.90 L280.55 119.59 L280.41 119.17 L280.53 118.84 L280.82 118.57 L280.87 118.22 L280.98 117.89 L281.26 117.62 L281.51 117.33 L281.77 117.05 L281.85 116.71 L281.80 116.32 L281.92 115.99 L282.01 115.66 L281.99 115.28 L282.24 114.99 L282.56 114.73 L282.67 114.40 L283.05 114.15 L283.30 113.87 L283.48 113.56 L283.78 113.29 L284.08 113.01 L284.29 112.71 L284.29 112.34 L284.37 112.00 L284.64 111.72 L284.98 111.46 L284.91 111.07 L284.61 110.61 L284.55 110.22 L284.59 109.87 L284.71 109.54 L284.93 109.24 L285.02 108.90 L284.75 108.45 L284.91 108.14 L284.96 107.79 L284.84 107.38 L284.88 107.03 L284.96 106.69 L285.16 106.39 L285.27 106.05 L285.23 105.68 L285.52 105.40 L285.69 105.08 L285.95 104.80 L286.10 104.48 L286.26 104.16 L286.39 103.83 L286.51 103.50 L286.45 103.12 L286.47 102.76 L286.78 102.49 L287.08 102.21 L287.15 101.87 L286.86 101.42 L287.06 101.11 L287.34 100.83 L287.30 100.45 L287.60 100.17 L288.10 99.96 L288.13 99.60 L288.01 99.20 L288.27 98.91 L288.41 98.59 L288.37 98.21 L288.32 97.83 L288.26 97.45 L288.19 97.06 L288.37 96.75 L288.70 96.48 L288.97 96.20 L289.21 95.91 L289.00 95.48 L288.82 95.06 L289.16 94.80 L289.50 94.53 L289.63 94.21 L289.60 93.83 L289.64 93.48 L289.84 93.17 L289.78 92.79 L289.82 92.44 L289.74 92.05 L289.77 91.69 L289.93 91.37 L289.72 90.94 L289.92 90.64 L290.31 90.39 L290.52 90.09 L290.73 89.79 L290.78 89.44 L290.98 89.13 L291.29 88.86 L291.17 88.46 L291.01 88.04 L290.92 87.65 L291.02 87.31 L291.25 87.02 L291.30 86.67 L291.16 86.26 L291.10 85.87 L291.12 85.51 L290.97 85.09 L291.07 84.76 L291.20 84.43 L291.28 84.08 L291.45 83.77 L291.52 83.43 L291.78 83.14 L292.27 82.93 L292.50 82.64 L292.63 82.31 L292.74 81.98 L292.99 81.69 L293.27 81.42 L293.61 81.16 L293.84 80.87 L293.75 80.47 L293.78 80.11 L293.67 79.71 L293.43 79.26 L293.77 79.00 L294.30 78.81 L294.59 78.54 L294.71 78.21 L295.04 77.95 L295.22 77.64 L295.24 77.28 L295.55 77.01 L295.73 76.71 L295.57 76.28 L295.49 75.89 L295.71 75.59 L295.65 75.20 L295.59 74.81 L295.63 74.46 L295.71 74.11 L295.93 73.82 L296.04 73.49 L296.08 73.13 L295.95 72.72 L295.78 72.29 L295.90 71.96 L296.10 71.66 L296.29 71.35 L296.60 71.09 L296.42 70.66 L296.40 70.28 L296.72 70.02 L296.85 69.69 L296.83 69.32 L296.93 68.98 L297.21 68.71 L297.49 68.44 L297.66 68.12 L297.77 67.79 L298.07 67.52 L298.38 67.26 L298.35 66.88 L298.10 66.42 L298.36 66.14 L298.73 65.90 L299.03 65.64 L299.35 65.38 L299.62 65.10 L299.71 64.76 L299.73 64.40 L299.93 64.10 L300.15 63.80 L300.08 63.41 L300.25 63.10 L300.49 62.81 L300.34 62.39 L300.14 61.95 L300.38 61.66 L300.53 61.34 L300.70 61.03 L300.93 60.74 L300.95 60.38 L300.95 60.01 L301.11 59.69 L301.19 59.35 L301.23 58.99 L301.35 58.66 L301.45 58.33 L301.49 57.97 L301.61 57.64 L301.74 57.32 L301.74 56.95 L301.92 56.64 L302.28 56.40 L302.30 56.03 L302.28 55.65 L302.33 55.30 L302.38 54.94 L302.44 54.59 L302.46 54.22 L302.54 53.88 L302.77 53.59 L302.91 53.27 L303.06 52.95 L302.99 52.55 L303.28 52.29 L303.78 52.12 L303.93 51.80 L304.04 51.46 L304.23 51.17 L304.29 50.81 L304.34 50.45 L304.30 50.05 L304.51 49.76 L304.77 49.50 L305.07 49.25 L305.19 48.92 L305.22 48.55 L305.42 48.26 L305.26 47.79 L305.05 47.29 L305.31 47.02 L305.93 46.95 L306.13 46.66 L306.20 46.30 L306.39 46.01 L306.76 45.82 L307.28 45.71 L307.61 45.51 L307.90 45.29 L307.84 44.85 L307.82 44.42 L308.24 44.29 L308.46 44.02 L308.70 43.77 L309.02 43.57 L309.14 43.24 L309.32 42.96 L309.37 42.56 L309.45 42.19 L309.68 41.94 L309.89 41.67 L310.22 41.49 L310.41 41.20 L310.49 40.82 L310.67 40.51 L310.81 40.17 L310.95 39.82 L311.17 39.55 L311.34 39.21 L311.53 38.90 L311.69 38.54 L312.00 38.36 L312.29 38.15 L312.49 37.82 L312.77 37.60 L313.12 37.47 L313.48 37.35 L313.76 37.13 L314.15 37.09 L314.53 37.05 L314.74 36.68 L314.96 36.29 L315.38 36.34 L315.78 36.41 L316.12 36.30 L316.49 36.34 L316.83 36.29 L317.16 36.16 L317.51 36.04 L317.86 36.00 L318.21 36.11 L318.54 36.29 L318.86 36.47 L319.19 36.53 L319.55 36.53 L319.88 36.63 L320.25 36.63 L320.70 36.47 L321.08 36.53 L321.41 36.68 L321.73 36.85 L322.08 36.98 L322.44 37.09 L322.76 37.28 L322.96 37.63 L323.27 37.81 L323.65 37.93 L323.83 38.28 L323.96 38.68 L323.99 39.16 L324.28 39.37 L324.53 39.61 L324.69 39.95 L324.88 40.25 L324.98 40.62 L325.04 41.03 L325.26 41.28 L325.42 41.58 L325.65 41.84 L325.93 42.05 L325.96 42.46 L326.15 42.74 L326.48 42.92 L326.85 43.09 L327.00 43.40 L327.25 43.66 L327.48 43.92 L327.51 44.31 L327.89 44.49 L328.32 44.64 L328.53 44.93 L328.63 45.27 L328.81 45.57 L329.04 45.85 L329.16 46.18 L329.43 46.44 L329.92 46.58 L330.17 46.85 L330.28 47.19 L330.23 47.61 L330.18 48.02 L330.46 48.28 L330.84 48.49 L330.89 48.85 L330.87 49.25 L331.07 49.54 L331.18 49.88 L331.30 50.21 L331.50 50.51 L331.35 50.96 L331.33 51.35 L331.51 51.65 L331.81 51.90 L331.97 52.21 L331.99 52.59 L331.96 52.98 L332.01 53.33 L332.02 53.71 L331.94 54.12 L332.19 54.39 L332.67 54.57 L332.84 54.89 L332.80 55.28 L333.02 55.56 L333.09 55.91 L333.28 56.21 L333.75 56.40 L334.03 56.67 L334.20 56.98 L334.47 57.25 L334.62 57.57 L334.56 57.97 L334.50 58.37 L334.67 58.68 L334.83 58.99 L335.00 59.30 L335.09 59.64 L335.09 60.02 L335.47 60.25 L335.48 60.62 L335.41 61.02 L335.52 61.35 L335.34 61.79 L335.28 62.19 L335.51 62.48 L335.62 62.81 L335.72 63.15 L335.68 63.54 L335.75 63.88 L335.84 64.22 L335.90 64.57 L336.11 64.87 L336.32 65.16 L336.70 65.39 L337.14 65.60 L337.24 65.94 L337.42 66.24 L337.69 66.52 L337.67 66.90 L337.87 67.20 L338.16 67.46 L338.46 67.72 L338.56 68.06 L338.65 68.40 L338.84 68.70 L339.06 69.00 L339.23 69.31 L339.09 69.73 L339.36 70.01 L339.63 70.28 L339.54 70.69 L339.38 71.12 L339.27 71.53 L339.37 71.87 L339.40 72.23 L339.37 72.61 L339.14 73.07 L339.18 73.43 L339.36 73.74 L339.73 73.97 L339.89 74.28 L340.08 74.59 L340.10 74.95 L340.32 75.25 L340.81 75.44 L341.08 75.72 L341.25 76.03 L341.39 76.35 L341.43 76.71 L341.53 77.04 L341.57 77.40 L341.39 77.84 L341.39 78.21 L341.64 78.49 L341.68 78.85 L341.66 79.22 L341.79 79.55 L341.92 79.88 L341.87 80.26 L341.94 80.61 L342.16 80.90 L342.32 81.22 L342.22 81.62 L342.38 81.94 L342.81 82.16 L342.95 82.48 L342.99 82.83 L343.23 83.12 L343.31 83.47 L343.45 83.79 L343.67 84.08 L343.86 84.39 L344.11 84.67 L344.25 84.99 L344.27 85.36 L343.89 85.86 L343.88 86.23 L344.16 86.50 L344.42 86.78 L344.49 87.13 L344.55 87.48 L344.69 87.80 L344.94 88.09 L345.22 88.36 L345.27 88.71 L345.44 89.03 L345.64 89.33 L345.61 89.71 L345.39 90.15 L345.41 90.51 L345.60 90.82 L345.42 91.25 L345.51 91.59 L345.92 91.82 L346.18 92.10 L346.22 92.46 L346.29 92.80 L346.63 93.06 L346.90 93.34 L347.03 93.66 L347.27 93.95 L347.12 94.37 L346.96 94.79 L347.02 95.14 L347.06 95.49 L347.08 95.85 L347.13 96.21 L347.31 96.52 L347.51 96.82 L347.56 97.17 L347.51 97.55 L347.42 97.95 L347.55 98.28 L348.02 98.49 L348.53 98.69 L348.82 98.97 L348.88 99.32 L348.90 99.68 L349.18 99.96 L349.52 100.21 L349.69 100.53 L349.63 100.91 L349.73 101.25 L349.88 101.57 L349.88 101.94 L349.85 102.31 L350.03 102.63 L350.02 102.99 L350.18 103.31 L350.46 103.59 L350.60 103.91 L350.86 104.20 L351.08 104.49 L351.16 104.84 L351.18 105.20 L351.11 105.59 L351.14 105.95 L351.19 106.30 L351.50 106.57 L352.01 106.78 L352.03 107.14 L352.14 107.47 L352.13 107.84 L352.17 108.19 L352.08 108.59 L352.09 108.95 L352.41 109.22 L352.43 109.58 L352.56 109.91 L352.79 110.20 L352.69 110.60 L352.78 110.94 L353.00 111.24 L352.93 111.62 L352.68 112.06 L353.13 112.29 L353.57 112.53 L353.55 112.90 L353.45 113.30 L353.44 113.66 L353.52 114.00 L353.64 114.34 L353.63 114.70 L353.86 115.00 L354.12 115.29 L354.16 115.64 L354.06 116.04 L353.93 116.44 L354.01 116.78 L354.19 117.09 L354.20 117.45 L354.08 117.85 L354.00 118.24 L354.24 118.53 L354.29 118.88 L354.36 119.23 L354.59 119.53 L354.64 119.88 L354.73 120.21 L354.91 120.53 L354.94 120.88 L355.00 121.23 L355.25 121.52 L355.61 121.78 L355.71 122.12 L355.77 122.46 L356.22 122.70 L356.33 123.03 L356.31 123.40 L356.42 123.73 L356.49 124.08 L356.54 124.43 L356.47 124.81 L356.48 125.17 L356.67 125.48 L356.74 125.83 L356.80 126.17 L356.86 126.52 L356.92 126.87 L356.95 127.22 L356.70 127.66 L356.46 128.09 L356.47 128.45 L356.73 128.74 L357.02 129.02 L357.02 129.39 L357.25 129.68 L357.30 130.03 L357.32 130.39 L357.69 130.65 L357.82 130.98 L358.02 131.28 L358.36 131.55 L358.61 131.85 L358.66 132.20 L358.71 132.54 L358.61 132.94 L358.71 133.27 L359.06 133.54 L359.13 133.88 L359.17 134.23 L359.34 134.55 L359.42 134.89 L359.40 135.26 L359.62 135.56 L359.96 135.83 L359.99 136.18 L360.02 136.54 L360.30 136.82 L360.29 137.19 L360.00 137.64 L360.14 137.96 L360.63 138.18 L360.75 138.51 L360.65 138.91 L360.78 139.23 L360.82 139.59 L360.82 139.95 L360.99 140.27 L361.48 140.49 L361.66 140.80 L361.46 141.22 L361.24 141.65 L361.47 141.95 L361.74 142.24 L361.59 142.64 L361.57 143.01 L361.76 143.32 L361.83 143.66 L361.72 144.06 L361.67 144.44 L361.81 144.76 L361.94 145.09 L362.13 145.40 L362.35 145.70 L362.51 146.02 L362.56 146.37 L362.72 146.69 L362.84 147.02 L362.87 147.37 L363.03 147.69 L363.34 147.97 L363.73 148.21 L363.83 148.55 L364.05 148.85 L364.27 149.15 L364.25 149.52 L364.04 149.95 L364.11 150.29 L364.43 150.56 L364.55 150.89 L364.46 151.28 L364.36 151.68 L364.33 152.05 L364.75 152.29 L364.97 152.59 L364.79 153.01 L364.67 153.41 L364.63 153.79 L364.48 154.20 L364.47 154.57 L364.85 154.82 L365.20 155.08 L365.35 155.40 L365.17 155.82 L365.10 156.21 L365.20 156.54 L365.19 156.91 L365.24 157.26 L365.23 157.63 L365.47 157.93 L365.80 158.19 L365.97 158.50 L366.18 158.80 L366.24 159.15 L366.04 159.58 L365.92 159.99 L366.05 160.32 L366.54 160.53 L367.00 160.75 L367.26 161.03 L367.25 161.40 L367.44 161.71 L367.70 161.99 L367.71 162.35 L367.90 162.66 L368.15 162.94 L368.01 163.36 L368.00 163.73 L368.14 164.05 L368.10 164.44 L367.88 164.88 L367.90 165.25 L368.22 165.51 L368.78 165.68 L368.96 165.99 L368.95 166.36 L369.21 166.64 L369.38 166.96 L369.31 167.35 L368.92 167.86 L368.90 168.24 L369.14 168.52 L369.38 168.81 L369.61 169.10 L369.71 169.44 L369.76 169.79 L369.91 170.11 L369.95 170.47 L370.25 170.73 L370.41 171.05 L370.35 171.44 L370.52 171.75 L370.71 172.06 L371.07 172.30 L371.35 172.56 L371.31 172.95 L371.39 173.30 L371.46 173.64 L371.87 173.86 L372.08 174.15 L371.93 174.59 L371.96 174.95 L372.24 175.22 L372.51 175.48 L372.62 175.82 L372.96 176.06 L373.15 176.35 L373.29 176.67 L373.35 177.02 L373.40 177.38 L373.62 177.67 L373.69 178.02 L373.90 178.31 L374.32 178.50 L374.45 178.83 L374.41 179.22 L374.42 179.60 L374.52 179.94 L374.72 180.23 L374.60 180.67 L374.63 181.04 L374.95 181.28 L375.24 181.52 L375.29 181.88 L375.35 182.25 L375.39 182.62 L375.50 182.96 L375.60 183.29 L375.74 183.62 L375.91 183.92 L376.41 184.06 L376.54 184.38 L376.56 184.77 L376.82 185.02 L376.96 185.34 L377.25 185.58 L377.46 185.86 L377.71 186.12 L377.86 186.43 L377.96 186.78 L378.14 187.08 L378.21 187.44 L378.18 187.88 L378.50 188.09 L378.75 188.34 L378.67 188.83 L378.63 189.29 L378.65 189.72 L378.81 190.05 L379.15 190.25 L379.20 190.67 L379.36 191.01 L379.73 191.17 L380.23 191.22 L380.79 191.19 L380.91 191.57 L381.07 191.91 L381.67 191.81 L382.04 191.92 L382.26 192.19 L382.50 192.44 L382.85 192.56 L383.35 192.45 L383.55 192.75 L383.72 193.07 L384.03 193.21 L384.15 193.69 L384.23 194.32 L384.51 194.60 L384.95 194.50 L385.38 194.32 L385.67 194.66 L385.99 194.93 L386.38 194.90 L386.75 195.05 L387.14 195.21 L387.48 194.69 L387.76 194.23 L388.08 194.11 L388.36 193.90 L388.64 193.70 L388.95 193.61 L389.28 193.54 L389.51 193.27 L389.70 192.95 L390.05 192.88 L390.41 192.82 L390.72 192.67 L391.13 192.66 L391.40 192.45 L391.60 192.14 L392.06 192.15 L392.59 192.24 L392.89 192.04 L393.07 191.70 L393.32 191.45 L393.46 191.09 L393.69 190.82 L394.16 190.80 L394.53 190.67 L394.81 190.44 L395.04 190.17 L395.28 189.90 L395.49 189.61 L395.81 189.42 L396.06 189.17 L396.20 188.82 L396.29 188.43 L396.23 187.92 L396.49 187.68 L396.99 187.63 L397.25 187.38 L397.23 186.92 L397.20 186.47 L397.31 186.12 L397.67 185.94 L397.88 185.67 L397.91 185.26 L398.22 185.05 L398.46 184.79 L398.50 184.40 L398.51 184.00 L398.64 183.67 L398.78 183.35 L399.15 183.16 L399.25 182.82 L399.36 182.49 L399.85 182.36 L400.13 182.12 L400.32 181.82 L400.69 181.62 L400.75 181.25 L401.03 181.00 L401.24 180.71 L401.20 180.30 L401.54 180.08 L401.70 179.77 L401.69 179.37 L401.70 178.98 L401.81 178.65 L401.76 178.23 L401.80 177.86 L401.90 177.53 L402.08 177.23 L402.34 176.97 L402.24 176.53 L402.31 176.18 L402.58 175.92 L402.89 175.68 L403.23 175.45 L403.42 175.15 L403.45 174.78 L403.59 174.46 L403.86 174.20 L404.16 173.95 L404.26 173.61 L404.11 173.17 L404.21 172.83 L404.78 172.69 L404.95 172.38 L404.92 171.99 L404.94 171.61 L404.91 171.23 L404.98 170.88 L405.20 170.59 L405.38 170.29 L405.44 169.93 L405.53 169.59 L405.85 169.34 L406.13 169.08 L406.19 168.72 L406.20 168.35 L406.18 167.97 L406.48 167.71 L406.70 167.42 L406.72 167.05 L406.91 166.75 L407.33 166.53 L407.57 166.25 L407.83 165.97 L408.02 165.66 L408.17 165.35 L408.13 164.96 L408.08 164.56 L408.26 164.26 L408.42 163.94 L408.52 163.61 L408.46 163.21 L408.52 162.86 L408.80 162.59 L409.01 162.29 L409.12 161.96 L409.26 161.63 L409.38 161.30 L409.57 161.00 L409.72 160.68 L409.75 160.32 L409.79 159.96 L409.99 159.66 L410.21 159.36 L410.00 158.92 L409.82 158.50 L409.81 158.13 L409.87 157.78 L409.86 157.41 L409.66 156.98 L409.64 156.60 L409.87 156.31 L409.96 155.97 L410.25 155.70 L410.56 155.43 L410.88 155.16 L411.08 154.86 L410.99 154.46 L410.85 154.05 L410.84 153.68 L411.03 153.38 L411.18 153.06 L411.20 152.70 L411.52 152.43 L411.83 152.16 L412.01 151.85 L412.04 151.49 L412.11 151.14 L412.11 150.78 L412.10 150.41 L412.12 150.05 L412.48 149.80 L412.79 149.52 L412.74 149.14 L412.65 148.75 L412.67 148.39 L412.89 148.09 L412.89 147.72 L413.04 147.40 L413.07 147.05 L413.13 146.70 L413.42 146.42 L413.53 146.09 L413.65 145.76 L413.80 145.44 L413.86 145.09 L413.98 144.76 L414.18 144.46 L414.28 144.12 L414.38 143.79 L414.39 143.42 L414.41 143.07 L414.64 142.77 L414.91 142.49 L415.22 142.21 L415.40 141.90 L415.30 141.51 L415.38 141.17 L415.35 140.79 L415.52 140.48 L415.65 140.15 L415.54 139.75 L415.71 139.44 L416.12 139.20 L416.32 138.89 L416.36 138.54 L416.54 138.23 L416.89 137.97 L416.81 137.58 L416.85 137.22 L417.23 136.97 L417.29 136.63 L417.29 136.26 L417.50 135.96 L417.58 135.62 L417.66 135.28 L417.62 134.90 L417.61 134.53 L417.85 134.24 L417.84 133.87 L417.71 133.46 L417.83 133.13 L418.06 132.84 L418.06 132.47 L418.13 132.12 L418.25 131.79 L418.17 131.40 L418.12 131.02 L418.48 130.77 L418.83 130.51 L419.05 130.21 L419.22 129.90 L419.24 129.54 L419.36 129.21 L419.42 128.86 L419.32 128.46 L419.47 128.14 L419.49 127.78 L419.38 127.38 L419.38 127.02 L419.19 126.59 L419.05 126.18 L419.28 125.89 L419.44 125.57 L419.58 125.25 L419.85 124.96 L420.19 124.70 L420.30 124.37 L420.36 124.02 L420.66 123.75 L420.84 123.44 L420.79 123.06 L420.83 122.70 L420.91 122.36 L420.99 122.02 L421.22 121.72 L421.48 121.44 L421.65 121.12 L421.65 120.76 L421.65 120.39 L421.75 120.06 L421.78 119.70 L421.72 119.31 L421.86 118.99 L421.96 118.65 L421.97 118.29 L422.01 117.94 L422.13 117.61 L422.25 117.28 L422.36 116.95 L422.66 116.67 L422.80 116.35 L422.90 116.01 L423.03 115.69 L423.08 115.34 L422.99 114.94 L422.94 114.56 L422.79 114.15 L422.74 113.77 L423.08 113.51 L423.55 113.29 L423.56 112.92 L423.89 112.66 L424.16 112.38 L424.18 112.01 L424.44 111.73 L424.61 111.42 L424.62 111.05 L424.68 110.70 L424.45 110.27 L424.28 109.85 L424.38 109.51 L424.38 109.15 L424.36 108.77 L424.70 108.51 L425.24 108.31 L425.24 107.95 L425.24 107.58 L425.33 107.24 L425.48 106.92 L425.53 106.57 L425.48 106.19 L425.37 105.79 L425.39 105.43 L425.64 105.14 L426.06 104.90 L426.45 104.66 L426.54 104.32 L426.57 103.96 L426.41 103.55 L426.19 103.11 L426.05 102.71 L426.06 102.35 L426.01 101.97 L426.36 101.71 L426.80 101.47 L426.93 101.15 L427.01 100.80 L426.92 100.41 L426.92 100.05 L427.20 99.77 L427.61 99.52 L428.15 99.32 L428.43 99.04 L428.32 98.64 L428.43 98.31 L428.67 98.01 L428.80 97.69 L428.92 97.36 L429.23 97.09 L429.47 96.79 L429.46 96.42 L429.34 96.02 L429.34 95.66 L429.37 95.30 L429.58 95.00 L429.55 94.62 L429.58 94.27 L429.67 93.93 L429.68 93.57 L429.67 93.20 L429.89 92.90 L430.41 92.69 L430.55 92.37 L430.70 92.05 L430.92 91.75 L430.82 91.35 L430.80 90.98 L430.87 90.63 L431.00 90.31 L430.99 89.94 L430.94 89.56 L430.95 89.20 L431.14 88.89 L431.21 88.55 L431.05 88.13 L431.28 87.83 L431.50 87.53 L431.53 87.18 L431.57 86.82 L431.86 86.55 L431.90 86.19 L431.92 85.83 L431.86 85.45 L431.74 85.04 L431.75 84.68 L431.69 84.29 L431.80 83.96 L432.02 83.66 L432.20 83.35 L432.36 83.03 L432.63 82.75 L433.01 82.51 L432.97 82.12 L432.82 81.71 L432.97 81.39 L433.19 81.09 L433.38 80.79 L433.48 80.45 L433.68 80.15 L433.99 79.88 L433.93 79.49 L433.80 79.08 L433.81 78.72 L433.98 78.40 L434.23 78.12 L434.31 77.77 L434.18 77.36 L433.93 76.91 L434.37 76.69 L434.91 76.50 L435.16 76.21 L435.00 75.79 L434.92 75.39 L435.23 75.13 L435.28 74.77 L435.26 74.40 L435.61 74.15 L436.09 73.94 L436.34 73.66 L436.32 73.28 L436.38 72.93 L436.70 72.67 L436.58 72.26 L436.56 71.88 L436.72 71.57 L437.13 71.34 L437.33 71.04 L437.43 70.70 L437.46 70.34 L437.53 70.00 L437.58 69.64 L437.63 69.29 L438.08 69.08 L438.32 68.79 L438.30 68.41 L438.42 68.08 L438.66 67.80 L438.86 67.50 L438.77 67.10 L438.59 66.66 L438.40 66.22 L438.27 65.80 L438.40 65.47 L438.59 65.17 L438.72 64.84 L438.92 64.54 L439.19 64.27 L439.39 63.97 L439.60 63.67 L439.84 63.39 L440.02 63.09 L440.19 62.78 L440.31 62.45 L440.36 62.09 L440.64 61.82 L440.68 61.47 L440.88 61.17 L441.02 60.85 L441.14 60.52 L441.04 60.11 L441.02 59.72 L441.25 59.44 L441.31 59.08 L441.32 58.71 L441.44 58.38 L441.64 58.09 L441.73 57.74 L441.63 57.32 L441.54 56.91 L441.81 56.64 L442.26 56.44 L442.68 56.24 L442.78 55.90 L442.93 55.59 L443.22 55.33 L443.31 54.99 L443.42 54.66 L443.49 54.31 L443.54 53.94 L443.85 53.70 L443.97 53.37 L443.86 52.94 L443.86 52.55 L444.17 52.31 L444.39 52.02 L444.27 51.58 L444.28 51.20 L444.45 50.89 L444.34 50.45 L444.38 50.08 L444.73 49.85 L444.99 49.59 L445.20 49.30 L445.42 49.02 L445.69 48.76 L445.84 48.44 L445.98 48.12 L446.27 47.88 L446.68 47.70 L447.02 47.49 L447.21 47.19 L447.14 46.76 L446.93 46.23 L447.28 46.03 L447.78 45.92 L448.06 45.68 L448.27 45.39 L448.74 45.28 L448.92 44.98 L448.98 44.61 L449.17 44.32 L449.28 43.99 L449.43 43.67 L449.66 43.40 L449.70 43.01 L449.72 42.60 L449.94 42.33 L450.15 42.05 L450.33 41.75 L450.60 41.51 L450.73 41.18 L451.06 40.99 L451.14 40.60 L451.09 40.11 L451.33 39.86 L451.63 39.64 L451.68 39.22 L451.80 38.84 L452.23 38.76 L452.61 38.62 L452.69 38.20 L453.01 38.01 L453.33 37.84 L453.61 37.62 L453.93 37.44 L454.33 37.39 L454.79 37.43 L455.09 37.28 L455.37 37.10 L455.74 37.10 L455.99 36.86 L456.33 36.84 L456.67 36.85 L456.98 36.84 L457.27 36.72 L457.56 36.62 L457.86 36.48 L458.18 36.45 L458.49 36.47 L458.82 36.46 L459.19 36.21 L459.54 36.23 L459.91 36.18 L460.33 36.04 L460.75 35.97 L461.15 35.97 L461.63 35.85 L461.99 35.99 L462.25 36.31 L462.57 36.51 L462.75 36.91 L463.05 37.13 L463.35 37.34 L463.62 37.59 L463.89 37.83 L464.23 38.00 L464.53 38.20 L464.72 38.53 L464.82 38.95 L464.97 39.30 L465.21 39.56 L465.56 39.72 L465.95 39.85 L466.24 40.08 L466.21 40.56 L466.31 40.94 L466.56 41.19 L466.64 41.57 L466.77 41.91 L467.03 42.15 L467.23 42.44 L467.59 42.62 L468.01 42.75 L468.14 43.10 L468.17 43.50 L468.27 43.85 L468.54 44.09 L468.76 44.37 L468.94 44.67 L469.04 45.02 L469.13 45.38 L469.24 45.72 L469.49 45.98 L469.81 46.20 L470.06 46.46 L470.25 46.75 L470.35 47.10 L470.52 47.41 L470.96 47.57 L470.93 47.99 L470.76 48.47 L470.80 48.85 L471.04 49.11 L471.02 49.51 L471.07 49.88 L471.44 50.08 L471.80 50.30 L471.89 50.64 L471.99 50.98 L472.05 51.34 L472.19 51.66 L472.21 52.04 L472.55 52.26 L472.98 52.45 L473.25 52.71 L473.41 53.02 L473.34 53.44" stroke="#000" stroke-width="1.55"/>
</g>
<g stroke="#5a5a5a" stroke-width="1" fill="none">
<rect x="55.5" y="10.5" width="418.0" height="210.0"/>
<path d="M55.5 10.5 v3 M55.5 220.5 v-3"/>
<path d="M101.5 10.5 v3 M101.5 220.5 v-3"/>
<path d="M148.5 10.5 v3 M148.5 220.5 v-3"/>
<path d="M194.5 10.5 v3 M194.5 220.5 v-3"/>
<path d="M241.5 10.5 v3 M241.5 220.5 v-3"/>
<path d="M287.5 10.5 v3 M287.5 220.5 v-3"/>
<path d="M334.5 10.5 v3 M334.5 220.5 v-3"/>
<path d="M380.5 10.5 v3 M380.5 220.5 v-3"/>
<path d="M427.5 10.5 v3 M427.5 220.5 v-3"/>
<path d="M473.5 10.5 v3 M473.5 220.5 v-3"/>
<path d="M55.5 220.5 h4 M473.5 220.5 h-4"/>
<path d="M55.5 194.5 h4 M473.5 194.5 h-4"/>
<path d="M55.5 168.5 h4 M473.5 168.5 h-4"/>
<path d="M55.5 141.5 h4 M473.5 141.5 h-4"/>
<path d="M55.5 115.5 h4 M473.5 115.5 h-4"/>
<path d="M55.5 89.5 h4 M473.5 89.5 h-4"/>
<path d="M55.5 62.5 h4 M473.5 62.5 h-4"/>
<path d="M55.5 36.5 h4 M473.5 36.5 h-4"/>
<path d="M55.5 10.5 h4 M473.5 10.5 h-4"/>
</g>
<g stroke="#000" stroke-width="0.9">
<line x1="224.9" y1="39" x2="239.6" y2="48.5"/>
<line x1="342.2" y1="37.8" x2="329.9" y2="45.2"/>
<line x1="222.2" y1="189.3" x2="240.8" y2="201.5"/>
</g>
<g font-family="'Liberation Serif', 'Times New Roman', serif" font-weight="bold">
<text x="29.66" y="224.62" font-size="8.37" fill="#000" textLength="23.23" lengthAdjust="spacingAndGlyphs">-400</text>
<text x="29.66" y="198.37" font-size="8.37" fill="#000" textLength="23.23" lengthAdjust="spacingAndGlyphs">-300</text>
<text x="29.66" y="172.12" font-size="8.37" fill="#000" textLength="23.23" lengthAdjust="spacingAndGlyphs">-200</text>
<text x="29.66" y="145.87" font-size="8.37" fill="#000" textLength="23.23" lengthAdjust="spacingAndGlyphs">-100</text>
<text x="46.16" y="119.62" font-size="8.37" fill="#000" textLength="6.79" lengthAdjust="spacingAndGlyphs">0</text>
<text x="32.19" y="93.37" font-size="8.37" fill="#000" textLength="20.76" lengthAdjust="spacingAndGlyphs">100</text>
<text x="32.76" y="67.12" font-size="8.37" fill="#000" textLength="20.18" lengthAdjust="spacingAndGlyphs">200</text>
<text x="32.76" y="40.87" font-size="8.37" fill="#000" textLength="20.18" lengthAdjust="spacingAndGlyphs">300</text>
<text x="33.10" y="14.62" font-size="8.37" fill="#000" textLength="19.83" lengthAdjust="spacingAndGlyphs">400</text>
<text x="52.43" y="232.92" font-size="8.44" fill="#000" textLength="13.41" lengthAdjust="spacingAndGlyphs">10</text>
<text x="98.87" y="233.00" font-size="8.64" fill="#000" textLength="13.49" lengthAdjust="spacingAndGlyphs">12</text>
<text x="145.34" y="233.00" font-size="8.70" fill="#000" textLength="13.11" lengthAdjust="spacingAndGlyphs">14</text>
<text x="191.77" y="232.91" font-size="8.51" fill="#000" textLength="13.26" lengthAdjust="spacingAndGlyphs">16</text>
<text x="238.21" y="232.92" font-size="8.44" fill="#000" textLength="13.33" lengthAdjust="spacingAndGlyphs">18</text>
<text x="285.21" y="232.92" font-size="8.44" fill="#000" textLength="12.83" lengthAdjust="spacingAndGlyphs">20</text>
<text x="331.65" y="233.00" font-size="8.64" fill="#000" textLength="12.90" lengthAdjust="spacingAndGlyphs">22</text>
<text x="378.11" y="233.00" font-size="8.64" fill="#000" textLength="12.55" lengthAdjust="spacingAndGlyphs">24</text>
<text x="424.55" y="232.91" font-size="8.51" fill="#000" textLength="12.69" lengthAdjust="spacingAndGlyphs">26</text>
<text x="470.99" y="232.92" font-size="8.44" fill="#000" textLength="12.76" lengthAdjust="spacingAndGlyphs">28</text>
<text x="242.19" y="244.06" font-size="7.33" fill="#000" textLength="59.71" lengthAdjust="spacingAndGlyphs">Time(Sec)</text>
<text x="188.69" y="34.58" font-size="11.93" fill="#000" textLength="45.87" lengthAdjust="spacingAndGlyphs">Surge</text>
<text x="334.53" y="35.18" font-size="11.58" fill="#000" textLength="47.62" lengthAdjust="spacingAndGlyphs">Heave</text>
<text x="238.02" y="210.64" font-size="12.18" fill="#000" textLength="40.42" lengthAdjust="spacingAndGlyphs">Sway</text>
<text x="18.96" y="322.62" font-size="8.44" fill="#262626" textLength="13.81" lengthAdjust="spacingAndGlyphs">400</text>
<text x="18.83" y="352.82" font-size="8.44" fill="#262626" textLength="13.84" lengthAdjust="spacingAndGlyphs">200</text>
<text x="27.38" y="383.02" font-size="8.44" fill="#262626" textLength="5.24" lengthAdjust="spacingAndGlyphs">0</text>
<text x="15.88" y="413.22" font-size="8.44" fill="#262626" textLength="16.87" lengthAdjust="spacingAndGlyphs">-200</text>
<text x="15.78" y="443.52" font-size="8.44" fill="#262626" textLength="16.87" lengthAdjust="spacingAndGlyphs">-400</text>
<text x="18.76" y="453.12" font-size="8.44" fill="#262626" textLength="13.60" lengthAdjust="spacingAndGlyphs">400</text>
<text x="49.72" y="467.42" font-size="8.44" fill="#262626" textLength="14.26" lengthAdjust="spacingAndGlyphs">200</text>
<text x="89.75" y="481.22" font-size="8.44" fill="#262626" textLength="5.60" lengthAdjust="spacingAndGlyphs">0</text>
<text x="109.76" y="494.82" font-size="8.44" fill="#262626" textLength="17.91" lengthAdjust="spacingAndGlyphs">-200</text>
<text x="141.26" y="508.52" font-size="8.44" fill="#262626" textLength="17.91" lengthAdjust="spacingAndGlyphs">-400</text>
<text x="174.37" y="509.92" font-size="8.44" fill="#262626" textLength="17.39" lengthAdjust="spacingAndGlyphs">-400</text>
<text x="215.47" y="499.52" font-size="8.44" fill="#262626" textLength="17.08" lengthAdjust="spacingAndGlyphs">-200</text>
<text x="255.18" y="488.92" font-size="8.44" fill="#262626" textLength="5.24" lengthAdjust="spacingAndGlyphs">0</text>
<text x="297.03" y="478.82" font-size="8.44" fill="#262626" textLength="13.94" lengthAdjust="spacingAndGlyphs">200</text>
<text x="338.86" y="467.92" font-size="8.44" fill="#262626" textLength="14.12" lengthAdjust="spacingAndGlyphs">400</text>
<text x="287.30" y="270.47" font-size="21.11" fill="#000" font-weight="normal" textLength="6.66" lengthAdjust="spacingAndGlyphs">(</text>
<text x="294.11" y="269.90" font-size="19.79" fill="#000" textLength="9.89" lengthAdjust="spacingAndGlyphs">a</text>
<text x="304.10" y="270.47" font-size="21.11" fill="#000" font-weight="normal" textLength="6.66" lengthAdjust="spacingAndGlyphs">)</text>
<text x="285.76" y="537.29" font-size="21.00" fill="#000" font-weight="normal" textLength="6.92" lengthAdjust="spacingAndGlyphs">(</text>
<text x="293.19" y="537.40" font-size="20.43" fill="#000" textLength="11.35" lengthAdjust="spacingAndGlyphs">b</text>
<text x="305.77" y="537.29" font-size="21.00" fill="#000" font-weight="normal" textLength="5.89" lengthAdjust="spacingAndGlyphs">)</text>
<text transform="translate(15.9,115.0) rotate(-90)" font-size="10.8" stroke="#000" stroke-width="0.25" text-anchor="middle" textLength="94.6" lengthAdjust="spacingAndGlyphs">Surge/Sway/Heave(mm)</text>
</g>
<g stroke="#bdbdbd" stroke-width="0.8" fill="none">
<path d="M37.80 442.20 L37.80 321.30 M37.80 442.20 L202.00 400.20 M327.90 455.30 L327.90 334.40 M202.00 400.20 L327.90 455.30 M37.80 442.20 L163.70 497.30 M163.70 497.30 L327.90 455.30 M78.85 431.70 L78.85 310.80 M37.80 411.97 L202.00 369.97 M296.43 441.52 L296.43 320.62 M202.00 369.97 L327.90 425.07 M78.85 431.70 L204.75 486.80 M132.23 483.52 L296.43 441.52 M119.90 421.20 L119.90 300.30 M37.80 381.75 L202.00 339.75 M264.95 427.75 L264.95 306.85 M202.00 339.75 L327.90 394.85 M119.90 421.20 L245.80 476.30 M100.75 469.75 L264.95 427.75 M160.95 410.70 L160.95 289.80 M37.80 351.52 L202.00 309.52 M233.47 413.97 L233.47 293.07 M202.00 309.52 L327.90 364.62 M160.95 410.70 L286.85 465.80 M69.28 455.97 L233.47 413.97 M202.00 400.20 L202.00 279.30 M37.80 321.30 L202.00 279.30 M202.00 400.20 L202.00 279.30 M202.00 279.30 L327.90 334.40 M202.00 400.20 L327.90 455.30 M37.80 442.20 L202.00 400.20"/>
</g>
<g stroke="#262626" stroke-width="1.15" fill="none">
<path d="M37.80 442.20 L37.80 321.30 M37.80 442.20 L163.70 497.30 L327.90 455.30"/>
<path d="M37.80 442.20 L33.30 440.29 M163.70 497.30 L157.95 498.77 M163.70 497.30 L168.11 499.23 M37.80 411.97 L33.30 410.06 M132.23 483.52 L126.48 485.00 M204.75 486.80 L209.16 488.73 M37.80 381.75 L33.30 379.84 M100.75 469.75 L95.00 471.22 M245.80 476.30 L250.21 478.23 M37.80 351.52 L33.30 349.61 M69.28 455.97 L63.53 457.44 M286.85 465.80 L291.26 467.73 M37.80 321.30 L33.30 319.39 M37.80 442.20 L32.05 443.67 M327.90 455.30 L332.31 457.23"/>
</g>
<path d="M182.50 388.72 L181.55 389.22 L180.60 389.70 L179.65 390.22 L178.70 390.58 L177.75 390.97 L176.80 391.27 L175.85 391.51 L174.90 391.88 L173.89 392.18 L172.87 392.45 L171.86 392.93 L170.85 393.55 L169.84 393.97 L168.82 394.11 L167.81 394.24 L166.82 394.53 L165.94 394.71 L165.05 394.79 L164.16 394.94 L163.28 395.20 L162.39 395.56 L161.51 396.18 L160.62 396.84 L159.73 396.98 L158.85 396.99 L157.96 397.30 L157.08 397.35 L156.19 397.19 L155.30 397.21 L154.42 397.36 L153.53 397.63 L152.70 397.87 L151.94 397.83 L151.18 397.78 L150.42 398.06 L149.66 398.48 L148.90 398.69 L148.14 398.62 L147.38 398.56 L146.65 398.49 L145.96 398.34 L145.26 398.12 L144.56 398.00 L143.87 398.14 L143.17 398.27 L142.47 398.40 L141.78 398.60 L141.26 398.49 L140.85 398.04 L140.45 397.59 L140.04 397.23 L139.64 397.12 L139.23 397.19 L138.83 397.24 L138.42 397.28 L138.29 397.26 L138.29 397.06 L138.28 396.91 L138.27 396.87 L138.26 396.83 L138.25 396.67 L138.24 396.50 L138.23 396.56 L138.27 396.64 L138.31 396.63 L138.36 396.45 L138.40 396.22 L138.45 396.12 L138.50 396.21 L138.54 396.22 L138.59 396.10 L138.65 396.07 L138.72 395.87 L138.79 395.59 L138.86 395.41 L138.93 395.33 L139.00 395.31 L139.07 395.34 L139.14 395.25" fill="none" stroke="#0072bd" stroke-width="2.0" stroke-linejoin="round" stroke-linecap="round"/>
<path d="M138.23 396.62 L138.59 396.12 L139.14 395.51 L140.61 395.11 L141.67 394.76 L141.55 394.40 L141.13 394.01 L141.57 393.10 L142.40 392.44 L142.55 392.54 L142.66 392.61 L143.47 392.35 L144.53 392.07 L144.74 391.80 L144.67 391.39 L144.77 390.72 L145.02 389.80 L145.67 389.14 L146.55 389.24 L147.11 389.06 L147.42 388.12 L147.51 387.43 L148.04 387.15 L148.44 386.64 L148.39 386.35 L148.59 386.46 L148.74 386.78 L148.84 386.32 L149.04 384.17 L149.31 382.30 L149.89 382.23 L150.78 382.56 L152.22 382.72 L153.46 382.66 L153.68 382.29 L153.48 381.75 L154.19 381.21 L155.42 380.59 L155.85 379.96 L155.32 379.05 L155.08 378.57 L156.08 378.49 L157.39 378.05 L157.63 377.85 L157.50 377.37 L158.83 377.35 L160.24 377.20 L160.36 377.03 L159.30 377.46 L160.67 374.69 L157.54 374.24 L158.42 374.63 L162.58 375.09 L160.57 373.03 L163.56 375.26 L161.60 374.54 L163.76 371.40 L162.43 373.51 L166.00 371.27 L160.80 372.19 L161.89 374.84 L169.32 372.21 L169.69 368.60 L165.17 370.09 L164.70 368.99 L167.07 368.95 L166.73 369.93 L168.73 370.75 L168.51 368.95 L169.80 368.47 L168.62 367.60 L169.92 367.29 L171.32 367.06 L173.11 366.74 L173.72 366.41 L174.09 366.23 L174.30 365.31 L174.62 364.36 L175.33 364.57 L176.03 365.08 L176.26 365.02 L176.28 364.58 L176.53 364.56 L177.17 364.28 L178.21 363.65 L178.76 363.44 L178.87 362.97 L179.37 361.86 L180.58 361.28 L181.72 361.72 L182.37 362.22 L182.68 362.08 L182.92 361.47 L183.37 360.89 L183.27 360.85 L183.18 361.22 L184.02 361.47 L184.87 361.43 L185.50 360.81 L186.06 359.94 L186.89 359.41 L187.87 359.46 L188.46 359.44 L189.11 358.75 L189.69 358.26 L189.75 358.32 L189.97 358.50 L190.73 358.42 L191.38 358.25 L191.98 358.08 L193.06 357.42 L194.44 356.80 L195.32 356.67 L196.01 356.70 L196.27 356.19 L196.04 355.06 L196.21 353.78 L196.42 353.22 L197.04 353.59 L197.68 353.69 L198.71 353.24 L199.31 352.90 L199.34 353.15 L198.28 351.65 L199.19 352.82 L200.60 353.43 L201.21 352.23 L201.55 352.11 L200.65 350.62 L201.54 350.80 L202.85 348.28 L203.73 348.70 L203.69 348.70 L204.84 348.32 L206.32 347.00 L206.37 347.56 L205.12 347.80 L205.66 346.46 L207.28 345.57 L206.70 345.81 L207.37 347.80 L208.75 346.45 L208.45 347.16 L209.27 347.56 L209.87 346.70 L211.71 344.81 L211.21 344.13 L211.32 344.68 L213.04 344.25 L213.39 344.25 L214.15 344.23 L215.06 344.12 L215.51 343.81 L216.17 343.50 L216.75 343.27 L216.96 343.06 L217.49 343.17 L217.93 343.39 L218.60 342.72 L219.18 341.59 L219.40 341.60 L219.23 341.78 L219.48 341.31 L220.32 340.99 L221.50 340.87 L222.48 340.35 L222.91 339.71 L223.19 339.26 L224.22 338.89 L225.33 338.81 L225.81 339.03 L226.35 338.83 L227.49 338.62 L228.65 338.87 L229.24 339.57 L229.25 339.73 L229.22 338.85 L229.86 338.25 L230.63 337.46 L230.96 336.44 L231.16 336.26 L231.53 336.29 L232.28 336.16 L233.38 336.22 L234.19 336.09 L234.60 336.42 L234.90 336.62 L235.16 335.80 L235.94 335.11 L236.02 335.60 L237.40 335.05 L237.64 335.13 L237.43 336.25 L238.66 335.46 L240.31 334.67 L239.46 334.44 L239.35 334.52 L240.64 335.07 L241.89 335.21 L243.37 333.56 L245.61 334.56 L246.66 335.49 L244.26 334.66 L245.24 334.25 L245.30 334.17 L246.67 334.72 L247.07 333.39 L248.43 336.54 L246.79 334.88 L247.41 334.06 L249.80 334.37 L249.63 334.88 L250.95 332.40 L251.38 336.82 L250.23 338.45 L254.36 338.16 L253.95 338.43 L253.97 338.39 L254.36 337.94 L255.76 338.91 L251.62 339.26 L253.54 337.95 L255.85 337.71 L256.83 340.71 L255.59 339.53 L257.34 342.24 L255.33 342.03 L257.38 342.47 L254.65 340.68 L252.31 341.76 L249.61 345.55 L250.96 346.62 L252.83 347.66 L254.27 349.95 L254.22 347.58 L253.16 346.92 L251.26 347.97 L255.13 348.69 L253.72 347.97 L253.83 350.21 L252.92 348.75 L252.17 350.63 L255.23 351.62 L253.15 352.61 L250.84 351.04 L250.16 352.33 L248.28 353.39 L249.49 354.20 L249.64 358.79 L247.26 356.91 L249.23 356.47 L248.79 356.26 L248.57 359.76 L247.40 358.88 L248.27 358.32 L248.63 358.20 L247.92 358.76 L247.57 360.64 L246.50 362.14 L247.26 361.96 L247.85 362.99 L246.09 363.13 L245.60 363.20 L244.61 362.85 L245.55 363.03 L245.36 363.74 L243.88 365.65 L243.96 365.82 L244.16 366.11 L244.42 365.76 L242.73 366.54 L242.12 366.37 L241.78 367.18 L241.13 368.51 L240.69 369.08 L242.39 370.09 L240.49 369.85 L240.94 369.32 L241.33 370.60 L240.36 372.96 L241.48 371.65 L239.53 373.08 L238.34 373.54 L236.68 372.54 L236.76 373.44 L236.22 374.33 L235.95 377.11 L234.34 376.05 L234.48 377.20 L235.66 375.68 L235.22 376.24 L235.36 377.94 L235.37 379.17 L234.37 378.30 L233.56 378.11 L232.90 378.37 L232.28 379.34 L231.38 379.51 L230.84 379.14 L230.18 379.74 L230.64 380.05 L230.56 380.97 L229.94 381.39 L229.42 382.00 L229.03 382.59 L228.04 382.86 L227.14 383.55 L226.58 383.99 L226.85 384.08 L226.62 384.62 L226.04 385.17 L225.40 385.31 L224.83 385.76 L224.47 386.43 L223.94 387.18 L223.15 388.04 L222.80 388.81 L222.37 388.89 L221.58 388.64 L221.63 388.93 L222.50 389.55 L222.69 389.56 L221.78 389.20 L220.72 389.39 L220.08 390.56 L219.86 392.35 L219.33 393.27 L218.70 393.39 L218.06 393.58 L217.21 393.63 L216.54 393.78 L216.01 394.29 L215.24 394.79 L214.25 395.08 L213.44 395.40 L213.63 395.30 L214.33 395.01 L214.44 395.63 L213.63 396.80 L212.55 397.31 L211.75 397.51 L211.02 397.90 L210.73 398.40 L210.73 399.06 L210.22 399.61 L209.67 399.90 L209.52 400.46 L209.27 400.96 L208.56 400.71 L207.84 400.61 L207.32 401.23 L206.57 401.54 L205.41 402.12 L204.33 403.36 L204.07 404.32 L204.12 404.35 L204.35 404.01 L205.10 403.82 L205.26 403.87 L204.11 404.40 L202.62 405.23 L201.95 405.61 L201.50 405.56 L200.61 405.54 L199.92 405.82 L200.22 406.34 L200.50 407.49 L200.17 408.19 L199.44 407.78 L198.40 407.89 L197.77 408.75 L197.08 409.26 L195.91 409.44 L195.08 409.48 L194.70 410.12 L194.32 410.82 L193.64 410.66 L193.16 409.88 L192.85 409.66 L192.46 410.51 L191.74 411.50 L191.12 412.47 L190.53 412.92 L189.75 412.63 L189.15 413.08 L188.70 414.33 L188.27 415.16 L187.79 415.21 L187.18 415.04 L186.66 414.86 L185.98 415.13 L185.03 415.73 L183.99 416.20 L183.33 416.43 L183.40 416.82 L183.59 417.34 L183.44 417.48 L182.91 417.59 L181.77 417.93 L180.72 418.46 L180.26 419.04 L180.09 419.10 L179.60 418.81 L179.46 418.66 L179.82 418.61 L180.04 419.20 L179.38 420.42 L178.28 421.46 L177.56 421.88 L176.94 421.96 L175.67 422.13 L174.73 422.66 L174.52 422.79 L173.96 422.51 L173.29 422.50 L172.95 422.52 L172.32 422.35 L171.70 422.57 L171.93 423.43 L171.73 424.45 L170.29 425.41 L169.10 426.28 L168.89 426.47 L168.86 426.39 L168.74 426.56 L168.31 426.59 L167.63 426.97 L166.67 428.03 L165.30 428.88 L164.72 429.03 L164.78 429.18 L164.55 429.31 L163.94 429.77 L162.98 430.25 L161.63 430.35 L161.07 430.16 L161.69 429.69 L161.77 429.53 L160.63 430.28 L159.40 431.38 L159.02 432.15 L159.12 432.23 L159.13 432.24 L159.16 432.30 L158.86 432.38 L157.93 432.92 L156.92 433.39 L156.35 433.18 L155.72 433.10 L154.91 433.81 L154.09 434.49 L153.18 434.53 L152.43 434.60 L151.96 434.72 L151.46 434.66 L151.23 435.00 L151.04 435.37 L150.06 435.60 L148.60 436.31 L147.79 437.20 L147.54 437.63 L147.38 437.82 L147.10 438.05 L146.77 437.88 L146.14 437.72 L145.30 438.17 L144.32 438.49 L143.65 438.73 L143.33 439.24 L142.63 439.62 L141.62 439.56 L141.03 439.59 L140.52 439.48 L139.91 439.16 L139.26 439.26 L139.33 439.87 L139.72 440.12 L139.25 440.18 L138.30 440.26 L137.72 440.16 L136.88 440.56 L136.15 441.65 L135.68 442.19 L135.10 442.11 L134.52 441.89 L134.02 441.79 L133.46 441.95 L132.50 442.26 L131.25 442.60 L130.18 442.46 L129.66 441.52 L129.66 441.01 L129.54 441.47 L128.89 441.98 L128.06 441.68 L127.35 441.37 L126.64 442.05 L126.16 442.56 L125.72 442.32 L125.32 442.10 L125.16 441.82 L124.54 441.67 L123.54 441.74 L122.84 441.25 L122.25 440.71 L121.71 440.56 L121.35 440.43 L120.96 440.30 L120.23 439.41 L119.61 438.74 L119.31 438.87 L118.99 439.60 L118.21 439.68 L116.97 438.89 L115.86 438.20 L114.86 437.38 L114.23 437.01 L113.56 437.54 L113.09 437.84 L112.90 437.36 L112.46 436.88 L111.79 436.62 L111.41 436.24 L111.39 435.83 L110.98 435.27 L111.36 434.53 L112.04 433.81 L112.18 433.01 L112.68 431.98 L112.80 431.04 L112.26 430.49 L111.96 430.18 L112.21 429.82 L112.88 429.69 L113.49 429.23 L113.32 428.28 L112.93 427.73 L113.47 427.55 L113.89 427.14 L114.02 426.24 L114.85 424.67 L115.62 423.68 L115.88 423.62 L115.98 423.32 L116.51 422.40 L116.71 421.60 L116.40 421.43 L116.41 421.35 L117.08 421.01 L117.73 420.40 L117.93 419.46 L117.58 418.96 L117.71 418.89 L118.36 418.55 L119.40 417.44 L120.45 417.66 L120.72 418.51 L119.88 418.96 L120.43 417.46 L120.42 416.75 L120.37 415.67 L121.13 414.31 L123.02 413.92 L123.10 414.16 L123.21 414.20 L123.03 411.63 L124.15 412.86 L125.19 410.45 L125.82 409.99 L125.54 410.06 L125.77 410.31 L125.61 410.66 L125.53 409.00 L126.26 407.64 L125.82 406.48 L125.31 406.69 L126.99 407.66 L128.90 406.39 L129.13 404.91 L128.53 404.45 L128.59 404.05 L128.56 403.47 L129.10 403.17 L129.31 402.95 L130.03 402.71 L130.33 402.45 L130.40 402.45 L131.55 401.80 L132.32 401.35 L132.27 400.94 L132.14 400.15 L132.60 399.57 L133.39 398.90 L134.12 398.24 L134.37 398.33 L134.77 398.58 L135.47 397.89 L135.93 396.46 L135.93 394.88 L135.99 394.26 L136.32 394.43 L137.02 393.95 L137.69 393.04 L137.94 392.44 L138.53 391.90 L139.16 391.51 L139.44 391.38 L139.89 391.16 L140.09 390.92 L140.13 390.00 L140.56 389.56 L140.81 389.80 L140.86 389.72 L140.78 389.02 L141.28 387.74 L142.86 386.98 L144.88 387.07 L146.40 386.99 L146.95 387.11 L146.82 387.31 L146.70 386.50 L146.76 385.06 L146.77 384.30 L146.74 383.69 L147.15 383.31 L147.92 383.56 L148.34 383.94 L148.27 383.44 L148.57 382.74 L149.99 382.45 L151.51 382.18 L151.89 382.01 L152.43 381.63 L153.07 381.43 L153.21 381.05 L153.50 380.36 L154.20 380.17 L154.25 379.94 L153.98 379.17 L154.39 378.35 L155.55 377.85 L156.26 377.74 L156.09 377.13 L156.22 376.49 L156.48 376.33 L157.51 376.01 L155.85 376.29 L156.74 376.32 L158.13 376.20 L159.38 373.78 L159.35 376.46 L159.13 378.69 L163.93 373.84 L160.55 370.71 L165.86 371.63 L157.07 377.48 L164.46 377.52 L166.54 378.00 L161.93 373.61 L162.25 372.38 L163.29 373.36 L163.78 369.04 L167.58 368.75 L167.19 368.99 L164.86 369.26 L167.51 368.76 L167.94 370.94 L167.64 368.67 L168.28 367.71 L167.67 367.70 L169.98 366.78 L171.57 366.28 L171.79 366.27 L172.39 366.21 L172.56 365.53 L172.73 364.36 L173.30 363.76 L174.20 363.83 L174.88 364.02 L175.37 364.35 L175.80 364.58 L176.59 364.27 L177.33 363.82 L177.91 363.11 L178.64 362.41 L178.65 361.74 L178.51 361.63 L179.28 361.79 L179.90 361.03 L180.36 360.12 L179.86 360.17 L179.34 360.14 L180.07 359.31 L181.16 358.37 L181.74 358.03 L182.51 357.95 L183.35 357.53 L183.78 356.84 L184.48 356.59 L184.79 356.83 L184.36 356.20 L184.72 354.84 L185.83 354.25 L186.60 354.32 L186.68 353.66 L186.57 352.84 L187.38 352.90 L188.76 352.82 L189.90 352.16 L190.42 351.88 L190.19 351.66 L190.03 350.73 L190.26 349.79 L190.63 349.77 L191.50 350.59 L192.84 350.85 L193.17 350.25 L193.47 349.49 L194.22 349.42 L195.11 349.74 L196.13 349.60 L196.27 348.74 L196.75 349.01 L197.61 349.71 L199.15 347.60 L199.43 346.77 L199.63 347.67 L199.27 348.35 L200.35 347.72 L199.82 347.38 L200.95 347.46 L202.88 347.44 L202.31 345.11 L202.78 345.43 L205.25 346.10 L205.24 346.08 L207.48 345.01 L206.30 346.60 L207.40 346.92 L206.78 345.34 L206.89 345.71 L209.03 343.64 L210.40 343.16 L210.19 342.98 L210.09 343.47 L210.18 344.13 L211.08 344.53 L210.71 344.36 L212.23 343.26 L212.83 342.22 L213.47 341.97 L214.37 342.58 L214.85 342.70 L215.16 342.09 L215.25 341.54 L216.02 340.64 L217.37 340.15 L218.14 339.58 L218.23 339.34 L218.72 339.82 L219.30 340.21 L219.54 339.77 L220.42 339.11 L221.84 338.61 L222.61 338.70 L223.13 338.91 L223.92 338.62 L224.62 338.33 L224.72 338.35 L224.62 338.29 L224.63 338.52 L224.81 338.89 L225.20 338.31 L226.12 336.95 L227.30 336.12 L228.49 335.75 L228.99 335.72 L228.91 335.87 L229.00 335.94 L229.80 335.66 L231.14 334.67 L232.05 334.13 L232.65 333.94 L232.69 333.81 L233.49 332.99 L234.24 333.68 L233.84 333.85 L234.50 332.61 L235.94 332.84 L236.70 332.51 L237.20 333.00 L238.34 332.19 L238.03 333.14 L239.43 333.70 L239.61 331.45 L240.29 332.20 L240.63 332.81 L241.87 333.49 L241.77 332.58 L241.97 331.20 L243.09 332.91 L242.58 332.58 L244.88 333.36 L246.87 333.31 L247.14 331.24 L248.68 332.05 L250.12 330.83 L247.41 333.68 L246.76 336.25 L249.62 333.03 L248.24 332.40 L252.81 334.45 L251.83 334.46 L249.29 335.80 L252.47 335.35 L253.04 335.56 L252.19 336.09 L251.90 338.42 L252.18 338.51 L252.85 338.73 L255.67 338.57 L256.56 339.36 L253.79 338.99 L254.12 341.65 L254.30 343.75 L254.79 340.74 L252.86 340.85 L253.65 344.29 L255.18 344.01 L256.62 343.82 L254.27 343.49 L252.44 345.52 L253.03 346.77 L254.70 344.86 L252.97 348.71 L254.50 348.40 L251.64 347.65 L251.76 349.27 L250.99 350.13 L253.39 351.65 L251.29 350.66 L251.37 352.66 L252.41 352.64 L252.21 353.36 L252.56 352.14 L251.07 350.76 L251.19 354.14 L250.38 356.66 L248.88 354.35 L249.80 355.44 L248.20 355.37 L249.73 356.97 L249.76 357.44 L247.00 356.22 L247.10 358.14 L247.01 358.98 L249.11 360.47 L247.95 361.44 L248.59 361.19 L246.48 361.64 L246.91 361.36 L245.13 362.31 L245.06 362.38 L244.64 363.49 L245.04 365.17 L244.33 364.24 L243.18 364.05 L242.44 364.29 L243.55 366.23 L243.41 367.57 L242.48 367.24 L241.19 366.83 L240.97 367.15 L241.11 367.37 L240.29 367.58 L239.59 368.68 L238.93 368.87 L239.68 369.59 L239.64 371.33 L239.29 373.13 L240.67 371.15 L239.24 371.50 L240.00 372.69 L237.15 373.44 L234.62 375.03 L234.75 373.78 L238.31 374.07 L236.89 374.75 L235.79 374.04 L234.78 376.06 L234.71 375.96 L234.50 376.47 L235.19 376.63 L234.93 378.36 L233.51 378.72 L233.20 378.56 L233.39 378.24 L231.69 379.19 L231.32 380.39 L231.42 381.70 L230.28 382.34 L229.74 382.81 L229.56 383.13 L229.51 383.47 L228.75 384.03 L227.79 383.73 L228.01 383.16 L228.15 383.31 L227.53 384.29 L226.78 385.04 L226.81 385.34 L226.59 385.83 L225.70 386.74 L224.87 387.96 L224.18 388.97 L223.14 389.47 L222.42 389.02 L222.37 388.31 L222.31 388.69 L222.08 389.54 L221.68 389.82 L220.96 389.49 L220.13 389.27 L219.59 389.72 L219.14 390.50 L218.87 391.05 L218.73 391.34 L218.28 391.76 L216.86 392.45 L215.74 392.95 L215.65 393.17 L215.41 393.72 L215.09 394.23 L215.28 394.22 L215.22 394.17 L214.32 394.41 L213.73 395.15 L213.83 396.05 L213.41 396.67 L212.33 396.72 L211.51 396.69 L210.97 397.00 L210.13 397.23 L209.36 397.68 L209.16 398.85 L209.44 400.19 L209.46 400.31 L208.90 399.86 L207.89 400.45 L206.46 401.40 L205.58 401.73 L205.36 401.69 L205.64 401.79 L205.16 402.04 L203.78 402.25 L203.04 402.37 L202.61 402.75 L201.82 403.56 L201.22 404.44 L200.98 405.26 L200.70 405.48 L200.00 405.68 L199.27 406.14 L198.96 406.27 L198.88 405.98 L198.67 405.58 L198.43 405.61 L198.10 406.38 L197.38 407.39 L196.81 407.82 L196.41 408.12 L196.06 408.37 L195.94 408.48 L195.49 408.75 L194.49 408.94 L193.42 409.09 L193.00 409.40 L192.96 409.81 L192.44 410.44 L191.30 411.15 L190.15 412.00 L189.29 412.75 L189.14 413.14 L189.48 413.64 L189.36 413.72 L189.05 413.23 L188.57 413.09 L187.68 413.70 L186.65 414.57 L185.75 415.14 L185.47 415.59 L185.74 416.07 L185.79 416.45 L184.94 416.34 L183.64 415.83 L182.98 415.93 L182.96 416.69 L182.75 417.69 L182.27 418.09 L181.86 418.00 L181.52 418.08 L181.08 418.74 L180.59 419.38 L179.70 419.65 L178.50 419.92 L177.68 420.01 L177.59 420.03 L177.39 420.45 L176.39 420.86 L175.01 421.45 L174.25 422.39 L174.54 422.76 L174.59 422.67 L173.60 422.89 L172.91 423.27 L172.80 423.50 L172.36 424.08 L171.48 424.33 L170.90 423.94 L170.33 423.97 L169.60 424.87 L169.07 426.09 L168.58 426.37 L168.38 426.53 L168.09 426.76 L167.23 426.59 L166.50 426.68 L166.43 427.25 L166.25 428.03 L165.67 428.29 L164.90 428.48 L163.84 429.12 L163.03 429.76 L162.81 429.58 L162.76 429.13 L162.24 429.16 L161.36 429.49 L160.75 429.71 L160.06 430.16 L158.83 430.54 L157.62 430.64 L157.33 430.60 L157.30 430.75 L156.31 431.29 L155.27 432.37 L155.07 433.45 L155.51 433.97 L155.75 434.22 L155.07 434.05 L154.06 433.67 L153.47 433.95 L153.05 434.34 L152.21 434.81 L151.56 435.00 L151.67 434.55 L151.20 433.93 L150.08 434.42 L149.53 435.55 L149.32 436.01 L148.79 435.41 L148.16 434.90 L147.99 435.43 L147.80 436.47 L147.08 437.20 L146.35 437.60 L145.40 438.20 L144.54 438.55 L144.35 438.77 L144.33 439.25 L144.25 439.63 L143.91 439.57 L143.06 439.37 L142.09 439.48 L141.35 439.81 L140.45 440.00 L139.23 440.14 L138.48 440.49 L138.09 440.77 L137.46 440.84 L137.36 440.60 L137.62 440.31 L137.26 440.58 L136.39 441.03 L135.44 441.35 L134.47 441.90 L133.22 442.80 L132.27 443.50 L131.80 443.18 L131.57 442.31 L131.30 441.91 L130.37 441.79 L129.55 441.62 L129.49 441.63 L129.28 442.07 L128.28 442.87 L126.68 443.74 L125.31 444.08 L124.69 443.39 L124.76 442.39 L124.55 442.20 L124.14 442.62 L123.67 442.77 L122.62 442.22 L121.52 441.48 L120.70 441.46 L120.18 441.60 L119.91 441.46 L119.41 441.05 L118.53 440.76 L117.51 440.64 L116.83 440.73 L116.59 440.69 L116.27 440.14 L115.66 438.86 L115.12 438.40 L114.51 438.85 L113.71 438.69 L113.29 437.95 L113.70 437.41 L114.10 437.24 L113.56 436.93 L112.58 436.48 L111.90 436.38 L111.85 436.19 L112.01 435.45 L112.09 434.44 L112.44 433.10 L112.39 431.81 L112.15 430.77 L112.30 429.97 L112.78 429.53 L112.96 429.31 L113.06 428.90 L113.46 428.36 L113.19 427.95 L112.89 427.32 L113.47 427.08 L114.13 426.81 L114.62 426.12 L115.12 425.32 L115.11 424.46 L114.73 423.87 L114.91 424.11 L115.32 423.97 L115.40 423.15 L115.55 422.01 L116.30 420.86 L117.41 420.06 L117.84 419.41 L117.54 419.59 L117.68 419.27 L118.52 418.48 L119.02 418.34 L119.69 418.03 L120.16 417.65 L119.53 417.30 L120.74 416.96 L120.93 416.37 L121.15 414.78 L122.53 414.85 L122.43 414.17 L122.32 414.05 L121.79 413.10 L121.27 413.24 L122.01 413.49 L123.24 413.14 L123.80 411.67 L124.61 410.63 L125.87 408.84 L126.02 410.29 L125.59 410.75 L124.72 409.09 L125.18 407.80 L125.06 408.54 L125.53 407.18 L127.98 406.36 L129.20 407.44 L129.01 406.34 L128.87 405.67 L128.40 404.38 L128.68 404.03 L129.13 403.71 L129.26 404.20 L129.23 403.94 L129.30 403.79 L129.68 403.92 L130.71 403.12 L131.71 401.74 L132.68 400.60 L133.71 400.14 L134.27 399.44 L133.99 398.25 L133.64 397.36 L134.14 397.63 L135.14 397.91 L136.12 397.45 L136.68 396.59 L136.26 395.98 L135.67 395.80 L135.84 395.12 L136.15 394.20 L136.29 394.18 L137.32 393.85 L138.30 393.09 L138.67 392.39 L139.39 391.90 L140.48 391.52 L141.27 390.77 L141.58 390.17 L141.41 389.79 L140.84 389.76 L140.42 389.64 L141.14 389.66 L142.78 389.73 L143.43 389.37 L143.42 388.68 L143.88 388.19 L144.11 387.62 L144.23 386.88 L145.00 386.70 L145.86 386.45 L145.78 385.65 L146.12 385.42 L147.36 384.88 L148.24 383.81 L148.32 383.18 L148.18 383.39 L148.42 383.59 L148.96 383.41 L150.05 382.94 L151.29 381.94 L151.76 381.19 L151.72 380.80 L151.61 380.38 L152.13 379.89 L153.23 379.18 L154.09 378.63 L154.70 378.65 L155.69 378.93 L155.92 378.66 L155.30 378.21 L155.69 378.24 L156.59 377.04 L157.41 376.33 L157.77 375.59 L157.92 375.42 L157.77 375.73 L158.80 377.07 L161.68 375.71 L159.07 372.39 L161.60 372.95 L161.03 378.26 L161.79 372.21 L162.40 371.37 L161.38 370.07 L160.46 372.62 L164.89 373.69 L165.11 370.40 L166.10 374.90 L160.19 369.80 L164.05 370.60 L166.40 373.63 L167.52 374.52 L168.25 370.92 L168.39 369.06 L169.54 368.71 L170.17 369.35 L171.08 369.15 L168.65 369.88 L168.88 368.47 L169.55 367.83 L170.04 367.32 L170.84 367.02 L172.08 366.65 L172.50 366.10 L172.44 365.27 L172.91 364.98 L173.78 365.29 L174.52 365.09 L175.30 364.21 L176.36 363.77 L177.20 363.93 L177.84 364.23 L178.06 364.22 L178.10 363.37 L178.55 362.04 L179.29 360.97 L179.96 360.33 L180.70 360.30 L181.50 361.04 L181.73 361.57 L181.23 360.96 L181.20 360.12 L182.31 359.78 L183.62 359.88 L184.09 360.06 L184.46 359.52 L185.27 358.77 L185.73 358.52 L185.66 358.13 L186.03 357.32 L186.91 356.69 L187.71 356.11 L188.81 355.36 L190.24 355.46 L190.79 356.28 L190.69 356.89 L190.74 356.90 L191.09 356.22 L191.73 355.40 L192.09 354.72 L192.15 354.56 L192.74 354.66 L193.93 354.74 L194.64 354.34 L195.19 353.56 L195.82 352.88 L196.71 351.93 L196.69 351.65 L197.14 352.37 L197.43 352.30 L197.94 351.95 L198.21 351.34 L198.56 351.06 L199.69 350.63 L200.70 349.42 L201.21 349.03 L201.32 349.51 L202.95 349.02 L202.80 348.14 L202.46 347.28 L202.89 348.70 L203.72 348.56 L203.99 346.11 L205.96 346.77 L205.81 345.65 L204.91 345.64 L207.15 348.97 L207.54 349.14 L207.55 347.11 L208.20 344.93 L208.02 343.90 L208.55 343.96 L208.52 345.27 L208.84 344.88 L209.65 343.75 L210.39 343.77 L212.14 344.48 L213.45 344.33 L214.58 343.97 L214.25 343.06 L214.17 342.85 L214.83 342.12 L215.58 342.00 L216.58 342.08 L217.32 342.02 L218.22 341.92 L218.97 341.77 L219.56 341.35 L219.67 340.68 L219.70 340.04 L219.81 339.09 L220.35 338.31 L221.40 338.33 L222.33 338.58 L222.68 338.94 L223.27 339.34 L224.07 339.36 L224.62 339.07 L224.91 338.45 L225.64 337.99 L226.59 338.34 L227.11 338.41 L227.60 337.87 L228.39 337.86 L228.88 338.27 L229.40 337.92 L230.59 337.30 L231.43 337.25 L231.07 337.59 L230.25 337.82 L231.34 336.91 L232.68 336.06 L233.11 335.83 L233.26 335.18 L233.13 334.05 L234.25 334.45 L236.17 335.21 L237.18 335.80 L237.42 335.28 L237.78 334.49 L237.08 335.82 L238.49 335.59 L238.83 334.56 L240.68 334.40 L241.06 335.02 L241.59 335.29 L240.66 335.51 L241.98 334.48 L243.65 333.48 L244.01 334.43 L242.57 333.12 L244.75 333.23 L246.17 332.53 L246.00 334.22 L246.95 333.59 L246.70 334.85 L247.16 336.08 L248.53 334.90 L249.65 335.84 L249.51 334.50 L250.88 336.00 L251.29 337.80 L253.55 336.60 L250.22 339.72 L253.45 338.70 L253.05 336.83 L250.15 337.59 L252.84 339.90 L252.90 338.96 L252.67 337.91 L251.75 334.40 L251.83 337.87 L253.52 337.68 L254.85 340.18 L254.15 340.67 L252.19 340.98 L253.32 342.67 L251.69 342.15 L254.24 343.79 L254.95 347.04 L252.71 345.62 L253.58 347.16 L251.59 347.92 L251.15 347.83 L250.74 346.99 L252.73 342.95 L252.46 348.39 L251.87 349.99 L252.60 349.76 L249.70 350.36 L250.45 349.98 L247.95 349.76 L250.15 353.61 L253.15 351.38 L249.90 351.62 L248.67 351.96 L249.61 353.63 L247.75 353.14 L247.80 354.35 L247.70 356.57 L247.42 356.79 L248.67 357.40 L248.89 357.40 L247.26 357.36 L248.10 355.93 L246.68 356.30 L248.53 358.72 L245.51 360.76 L246.32 361.53 L244.59 362.12 L244.73 361.92 L244.01 362.10 L244.71 361.53 L244.65 361.92 L243.35 362.70 L242.41 365.49 L242.79 366.13 L242.09 366.11 L242.39 365.98 L242.26 366.26 L241.05 366.02 L239.83 366.89 L240.41 367.07 L240.67 368.30 L240.55 367.54 L239.57 368.33 L239.07 370.06 L239.42 372.46 L239.30 370.99 L237.13 371.45 L235.49 371.41 L237.08 371.61 L236.82 373.46 L236.32 373.34 L235.25 374.53 L233.61 374.14 L235.68 372.87 L233.84 372.74 L233.45 374.36 L234.38 374.43 L232.65 375.77 L231.86 375.78 L231.25 376.58 L232.53 377.73 L232.05 377.89 L231.72 377.07 L230.65 376.87 L228.93 378.77 L228.65 379.55 L229.20 379.66 L228.87 380.30 L228.40 380.88 L227.61 381.30 L227.16 381.18 L227.14 381.44 L226.62 382.24 L225.90 383.44 L225.20 383.99 L224.74 383.83 L223.97 383.67 L223.66 384.01 L223.47 384.63 L223.21 385.19 L223.32 385.54 L222.87 385.95 L221.86 386.32 L221.08 386.88 L220.79 387.55 L220.53 388.20 L220.11 388.88 L219.51 389.72 L218.70 390.34 L217.60 390.67 L216.79 390.29 L216.31 389.73 L215.96 389.89 L215.99 391.10 L215.68 392.51 L214.96 392.98 L214.59 392.68 L214.31 392.34 L214.24 392.09 L214.21 392.29 L213.57 393.15 L212.74 393.53 L212.04 393.61 L211.58 394.71 L211.32 395.78 L211.03 395.82 L210.79 395.63 L210.51 396.01 L209.93 396.64 L209.67 397.02 L209.65 397.87 L209.15 398.91 L208.54 399.37 L207.88 399.88 L207.29 400.80 L207.00 401.06 L206.41 400.99 L205.68 401.22 L205.18 401.26 L204.76 401.37 L203.91 401.75 L202.95 402.22 L202.37 402.61 L201.42 402.84 L201.02 402.90 L201.26 403.52 L201.09 404.86 L200.43 405.41 L199.63 405.25 L199.29 405.13 L198.90 404.91 L198.03 405.39 L197.48 406.74 L197.26 407.97 L196.45 407.91 L195.34 407.59 L195.27 408.03 L195.69 408.13 L195.37 408.07 L194.30 408.63 L193.37 409.37 L192.56 409.86 L192.07 409.92 L192.28 409.51 L192.67 409.39 L192.38 409.91 L191.66 410.44 L190.98 410.21 L190.49 410.04 L189.82 411.03 L188.81 412.72 L187.66 413.78 L187.39 413.69 L188.07 413.05 L188.50 412.57 L187.59 413.19 L185.94 413.85 L185.10 413.81 L185.21 413.97 L185.18 414.49 L184.23 415.28 L183.63 416.39 L183.40 417.50 L182.58 418.09 L181.73 418.47 L181.13 418.98 L180.08 419.18 L179.43 419.18 L178.78 419.25 L178.00 419.08 L177.59 419.21 L177.10 420.11 L176.46 421.39 L176.12 421.90 L175.85 421.52 L175.05 421.59 L174.04 422.07 L173.88 422.29 L174.25 422.93 L174.31 423.30 L173.40 423.20 L171.95 423.35 L171.44 423.50 L171.68 423.81 L171.86 424.21 L171.36 424.52 L169.97 424.59 L168.84 424.85 L168.53 425.61 L168.13 426.26 L167.31 426.40 L166.73 426.63 L166.29 427.26 L165.52 427.46 L165.12 427.34 L165.05 427.27 L164.63 427.61 L163.61 428.08 L161.94 428.72 L160.71 429.33 L161.10 429.53 L162.03 429.91 L162.35 430.54 L162.07 430.70 L161.42 430.44 L160.66 430.47 L159.83 430.71 L159.46 430.99 L158.98 431.55 L157.73 432.09 L157.02 432.28 L156.94 432.36 L156.18 432.16 L155.16 432.25 L154.70 433.16 L153.97 434.08 L153.49 434.56 L153.52 434.70 L153.29 434.42 L152.93 434.23 L152.44 434.97 L151.07 435.97 L149.56 436.27 L149.40 436.24 L149.43 436.57 L148.77 436.97 L148.05 437.16 L147.59 437.54 L147.05 437.97 L146.29 437.93 L145.39 437.46 L144.61 437.27 L144.18 438.05 L143.86 439.16 L143.46 439.75 L142.61 440.02 L141.59 440.17 L140.86 440.08 L140.65 439.31 L140.35 439.04 L139.83 439.86 L139.58 440.70 L139.01 441.59 L138.33 442.22 L137.79 441.89 L136.76 441.04 L135.82 440.42 L135.78 440.70 L135.29 441.22 L133.47 441.87 L131.06 442.56 L129.90 442.45 L130.64 441.96 L131.83 442.40 L131.92 443.37 L130.93 443.96 L129.48 443.70 L128.26 442.68 L127.82 442.13 L127.44 442.36 L126.92 443.21 L126.52 443.71 L126.30 443.56 L125.79 443.10 L125.12 442.48 L124.18 441.70 L122.93 441.44 L121.80 441.24 L121.20 441.01 L121.20 441.03 L121.66 441.19 L121.81 440.94 L120.97 440.54 L119.96 440.79 L119.10 441.25 L118.19 441.03 L117.61 440.44 L116.75 439.96 L115.72 440.27 L115.43 440.46 L115.17 439.84 L114.74 439.06 L114.31 438.01 L113.83 437.34 L113.51 437.34 L113.55 437.27 L113.12 436.65 L112.28 436.11 L111.95 435.81 L112.03 435.46 L111.97 434.85 L111.51 433.87 L111.23 432.81 L111.00 432.07 L111.08 431.66 L111.69 431.87 L111.78 431.79 L111.73 430.56 L112.33 429.26 L112.46 428.88 L112.01 428.52 L112.16 427.33 L112.65 425.95 L113.03 425.15 L113.23 425.23 L113.12 425.35 L113.13 424.94 L113.58 424.06 L113.98 423.18 L114.78 422.75 L116.18 422.39 L117.29 421.88 L117.31 421.79 L116.90 421.34 L117.18 420.22 L118.36 419.59 L118.74 419.32 L118.70 418.68 L118.97 418.11 L119.27 418.39 L120.21 418.00 L121.53 416.50 L121.29 415.49 L121.44 414.82 L121.76 414.42 L122.14 415.12 L122.96 415.97 L122.98 414.36 L122.91 412.92 L122.93 410.66 L124.60 410.43 L124.88 411.23 L125.17 411.49 L124.56 410.79 L124.33 410.96 L125.39 409.89 L126.30 409.17 L125.43 408.96 L126.15 409.43 L126.24 409.24 L126.46 408.02 L125.93 406.55 L125.80 406.18 L127.52 404.81 L128.25 405.09 L128.86 404.06 L129.47 404.01 L129.06 403.69 L129.27 403.29 L129.66 402.71 L130.07 402.55 L130.36 402.48 L130.77 401.97 L131.24 400.69 L132.26 399.78 L132.51 399.59 L132.48 399.36 L132.76 398.95 L133.15 397.86 L133.28 396.64 L134.14 396.32 L135.12 396.64 L135.43 396.68 L135.46 396.25 L136.16 395.87 L137.43 395.79" fill="none" stroke="#0072bd" stroke-width="2.45" stroke-linejoin="round" stroke-linecap="round"/>
<g font-family="'Liberation Serif', 'Times New Roman', serif" font-weight="bold" fill="#262626">
<text transform="translate(12.9,403.9) rotate(-90)" font-size="8.6" stroke="#262626" stroke-width="0.2" textLength="46.2" lengthAdjust="spacing"><tspan letter-spacing="0.6">Heave</tspan>(mm)</text>
<text transform="translate(55.20,482.60) scale(1.26,1) rotate(34.50)" font-size="7.75" stroke="#262626" stroke-width="0.15">Sway(mm)</text>
<text transform="translate(241.30,505.60) scale(1.10,1) rotate(-19.50)" font-size="8.60" stroke="#262626" stroke-width="0.15">Surge(mm)</text>
</g>
</svg>
</body></html>
